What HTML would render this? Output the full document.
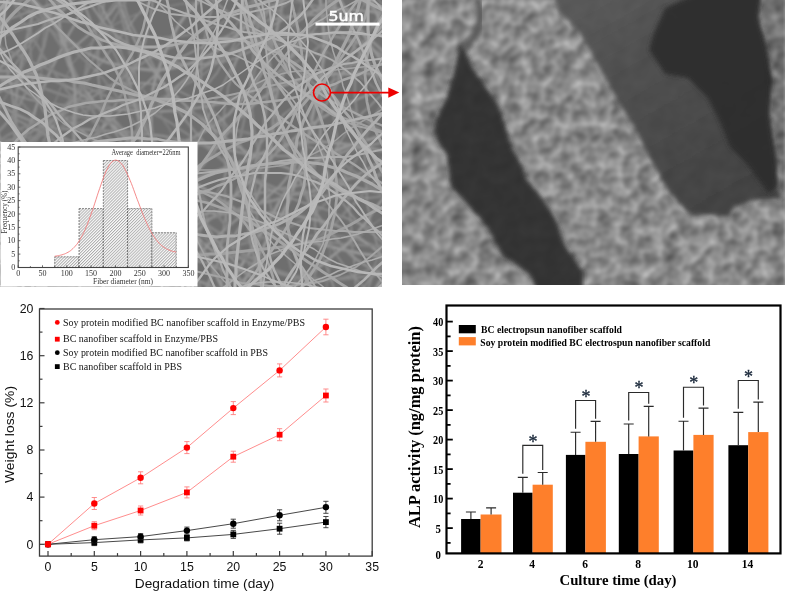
<!DOCTYPE html>
<html><head><meta charset="utf-8"><title>Figure</title>
<style>
html,body{margin:0;padding:0;background:#fff;}
body{width:785px;height:594px;overflow:hidden;position:relative;}
svg{position:absolute;left:0;top:0;display:block;}
.ser{font-family:"Liberation Serif","Times New Roman",serif;}
.san{font-family:"Liberation Sans",Arial,sans-serif;}
</style></head><body>
<svg width="785" height="594" viewBox="0 0 785 594">
<defs>
<filter id="grain" x="0" y="0" width="100%" height="100%" color-interpolation-filters="sRGB">
<feTurbulence type="fractalNoise" baseFrequency="0.075" numOctaves="2" seed="8" result="n"/>
<feColorMatrix in="n" type="matrix" values="0 0 0 0 0  0 0 0 0 0  0 0 0 0 0  1 0 0 0 0" result="h"/>
<feGaussianBlur in="h" stdDeviation="1.5" result="hb"/>
<feDiffuseLighting in="hb" surfaceScale="6" diffuseConstant="1" lighting-color="#fff" result="L"><feDistantLight azimuth="235" elevation="50"/></feDiffuseLighting>
<feColorMatrix in="n" type="matrix" values="1 0 0 0 0  1 0 0 0 0  1 0 0 0 0  0 0 0 0 1" result="g"/>
<feComposite in="L" in2="g" operator="arithmetic" k1="0" k2="0.3" k3="0.7" k4="0" result="c"/>
<feColorMatrix in="c" type="matrix" values="0.62 0 0 0 0.19  0 0.62 0 0 0.19  0 0 0.62 0 0.19  0 0 0 0 1"/>
<feGaussianBlur stdDeviation="0.9"/>
</filter>
<filter id="bl1"><feGaussianBlur stdDeviation="0.6"/></filter>
<filter id="bl15"><feGaussianBlur stdDeviation="1.2"/></filter>
<filter id="bl2"><feGaussianBlur stdDeviation="2"/></filter>
<filter id="bl4"><feGaussianBlur stdDeviation="4"/></filter>
<pattern id="hatch" width="2.1" height="2.1" patternUnits="userSpaceOnUse" patternTransform="rotate(45)">
<rect width="2.1" height="2.1" fill="#fafafa"/><line x1="0.5" y1="0" x2="0.5" y2="2.1" stroke="#9c9c9c" stroke-width="0.75"/>
</pattern>
<linearGradient id="mdg" gradientUnits="userSpaceOnUse" x1="580" y1="0" x2="700" y2="210"><stop offset="0" stop-color="#555"/><stop offset="0.5" stop-color="#474747"/><stop offset="1" stop-color="#3e3e3e"/></linearGradient>
<clipPath id="cl"><rect x="0" y="0" width="382" height="287"/></clipPath>
<clipPath id="cr"><rect x="402" y="0" width="383" height="285"/></clipPath>
</defs>

<g clip-path="url(#cl)">
<rect x="0" y="0" width="382" height="287" fill="#6e6e6e"/>
<g fill="none" stroke-linecap="round" stroke-linejoin="round" filter="url(#bl15)"><polyline points="-15,221 -8,227 -2,234 4,240 10,247 15,254 20,262 25,270 29,278 32,286 36,294 39,303 42,311 46,319" stroke="rgb(139,139,139)" stroke-width="1.8"/><polyline points="365,302 370,295 376,288 381,280 386,273 390,265 394,257 398,249 401,240 403,231 406,223 408,214 411,205" stroke="rgb(151,151,151)" stroke-width="3"/><polyline points="56,302 65,298 73,295 81,291 89,287 97,283 105,279 113,275 121,271 129,267 137,263 145,259 154,255 162,251 170,247 178,243 185,238 193,233 200,228 207,222 214,216 220,210 227,204 233,198 240,191 246,185 252,178 258,172 264,165 271,159 277,152 284,147 291,141 298,135 305,130 312,124 320,119 327,115 335,110 343,106 351,102 360,98 368,95 376,92 385,89 393,86 402,84 411,82" stroke="rgb(152,152,152)" stroke-width="2.2"/><polyline points="-15,70 -7,74 1,78 9,82 17,86 25,91 32,96 40,101 47,106 55,111 62,116 69,121 76,127 83,132 91,138 98,143 105,149 112,154 120,159 127,165 134,170 141,176 147,182 154,188 160,195 166,201 172,208 178,215 184,222 189,229 196,235 202,242 209,248 216,253 223,259 230,264 238,269 246,273 253,278 261,283 268,288 276,292 284,297 292,301 300,306 307,311 315,315" stroke="rgb(151,151,151)" stroke-width="2.6"/><polyline points="17,302 13,294 9,286 5,278 2,270 -0,261 -2,252 -3,243 -4,234 -3,225 -3,216 -1,207 0,198 3,190 6,181 10,173 14,165 19,158 24,151 30,143 36,137 42,130 48,123 54,117 61,111 68,105 75,100 83,96 91,92 100,89 108,86 117,84 126,83 135,83 144,83 153,84 162,86 170,88 179,91 187,95 195,99 203,103 210,109 217,115 223,121 229,128 235,135 239,143 244,151 247,159 251,167 253,176 255,185 255,194 256,203 257,212 257,221 257,230 258,239 258,248 258,257 259,266 260,275 261,284 262,292 265,301 268,309 272,318" stroke="rgb(142,142,142)" stroke-width="1.8"/><polyline points="397,131 388,134 380,136 371,139 362,141 354,144 345,147 337,150 329,155 321,159 314,164 307,169 300,175 294,182 288,189 283,196 278,204 274,212 269,220 265,227 260,235 256,243 251,250 246,258 241,266 236,273 231,281 225,288 219,294 213,300 205,306 198,311 191,316" stroke="rgb(152,152,152)" stroke-width="3"/><polyline points="117,302 124,296 131,291 138,286 146,281 154,277 162,272 170,269 178,265 186,262 195,259 204,256 212,254 221,251 229,248 238,245 246,243 255,240 264,237 272,233 280,230 289,227 297,223 305,219 312,214 320,209 326,203 333,196 338,189 344,182 348,174 352,166 357,158 360,150 364,142 367,134 371,125 375,117 379,109 384,102 389,95 395,87 400,80 405,73 411,66" stroke="rgb(128,128,128)" stroke-width="3"/><polyline points="-15,97 -7,102 1,106 9,110 17,114 25,118 33,122 41,126 49,130 57,134 65,138 73,142 81,146 89,151 96,156 104,161 111,167 117,173 124,179 130,185 137,192 143,198 149,205 154,212 160,219 165,226 170,234 175,241 179,249 184,257 187,265 191,274 195,282 198,290 202,298 206,307 209,315 213,323" stroke="rgb(149,149,149)" stroke-width="1.4"/><polyline points="120,-15 122,-6 124,3 126,11 129,20 133,28 137,36 141,44 146,52 150,59 154,67 159,75 163,83 167,91 171,99 176,107 181,114 186,121 192,128 198,135 204,142 210,149 216,155 223,161 230,167 238,172 245,176 254,180 262,183 270,186 279,189 288,191 297,193 305,195 314,196 323,197 332,197 341,198 350,198 359,198 368,198 377,197 386,196 395,194 404,192 413,191" stroke="rgb(140,140,140)" stroke-width="2.2"/><polyline points="397,38 389,34 381,30 373,26 364,23 356,21 347,19 338,17 329,16 320,15 311,15 302,15 293,16 284,17 275,19 267,21 258,23 249,26 241,29 233,33 225,37 216,40 208,44 200,48 192,52 184,56 176,60 169,65 161,70 154,76 148,82 141,88 135,95 129,102 123,108 117,115 110,121 104,127 97,133 90,139 83,144 76,150 69,155 62,161 56,168 50,175 44,182 39,189 34,196 29,204 25,212 21,220 17,228 13,236 9,244 6,253 4,261 2,270 1,279 1,288 1,297 2,306 4,315" stroke="rgb(148,148,148)" stroke-width="1.8"/><polyline points="-6,302 1,297 9,292 16,286 23,280 29,274 35,267 41,260 46,253 51,246 56,238 60,230 64,222 67,213 70,205 73,196 76,188 78,179 81,171 85,162 89,154 93,146 97,138 101,130 105,122 110,115 114,107 119,99 124,91 128,83 132,75 135,67 139,59 142,50 145,42 147,33 149,24 151,15 152,7 153,-2 153,-11 154,-20 156,-29" stroke="rgb(152,152,152)" stroke-width="1.8"/><polyline points="397,10 388,10 379,11 370,11 361,11 352,10 343,10 334,9 325,8 316,6 308,3 299,0 291,-4 283,-8 275,-12 267,-16 260,-21 252,-27" stroke="rgb(144,144,144)" stroke-width="1.8"/><polyline points="242,302 241,293 240,284 239,275 237,266 236,258 233,249 231,240 229,231 227,222 226,214 226,205 225,196 225,187 225,178 225,169 225,160 224,151 224,142 224,133 224,124 224,115 225,106 227,97 228,88 231,79 233,71 236,62 239,54 244,46 248,38 253,31 259,24 265,17 271,10 277,3 283,-3 289,-10 295,-16 301,-23 306,-30" stroke="rgb(147,147,147)" stroke-width="1.4"/><polyline points="397,67 390,61 383,56 375,51 367,47 359,43 351,40 342,38 333,36 324,35 315,34 306,34 297,35 288,37 280,39 271,41 262,43 253,45 245,48 236,51 228,54 220,58 212,62 204,67 197,72 189,77 182,82 175,88 169,95 163,101 157,108 151,114 144,121 139,128 133,135 127,141 121,148 115,155 109,161 102,168 96,174 88,179 81,184 73,188 65,192 57,196 48,199 40,202 31,205 23,208 14,210 5,212 -4,214 -12,216 -21,218 -30,220" stroke="rgb(141,141,141)" stroke-width="3"/><polyline points="134,302 140,296 147,289 154,283 160,278 167,272 174,266 180,259 186,252 192,245 196,238 201,230 204,222 208,213 211,205 215,197 219,189 223,180 227,172 230,164 234,156 237,147 240,139 242,130 244,121 246,113 248,104 249,95 250,86 251,77 252,68 253,59 254,50 256,41 257,32 259,23 261,15 264,6 267,-2 270,-11 273,-19 276,-28" stroke="rgb(146,146,146)" stroke-width="1.4"/><polyline points="99,302 92,297 84,293 76,289 68,284 60,279 53,274 46,269 38,264 31,259 24,253 17,248 10,241 4,235 -1,228 -6,220 -10,212 -14,204 -17,195 -20,187 -22,178 -23,169 -24,160 -24,151 -23,142 -23,133 -22,124 -21,115 -20,106 -19,97 -18,89 -16,80 -13,71 -10,63 -7,54 -4,46 -1,37 3,29 8,22 13,14 18,6 22,-1 27,-9 33,-16 38,-23 43,-30" stroke="rgb(134,134,134)" stroke-width="1.8"/><polyline points="219,-15 217,-6 214,2 211,11 209,19 207,28 205,37 203,46 202,55 201,64 201,73 201,82 201,91 203,99 205,108 208,117 211,125 215,133 219,141 224,149 229,156 235,163 242,169 248,175 255,181 263,186 271,190 279,194 287,197 296,200 304,203 313,205 321,208 330,211 338,215 346,218 355,222 363,225 372,228 380,231 389,234 397,237 406,239 414,242" stroke="rgb(147,147,147)" stroke-width="1.8"/><polyline points="133,-15 127,-8 122,-1 116,6 111,13 105,19 98,26 92,32 85,38 78,44 71,49 63,54 56,59 48,63 40,68 32,73 25,77 17,82 9,87 1,91 -7,95 -15,99 -23,102 -32,104" stroke="rgb(152,152,152)" stroke-width="1.8"/><polyline points="397,26 392,18 387,11 382,4 376,-4 371,-11 365,-17 359,-24 352,-30" stroke="rgb(135,135,135)" stroke-width="1.8"/><polyline points="41,-15 33,-11 25,-7 17,-3 9,1 1,5 -7,9 -15,13 -23,18 -31,22" stroke="rgb(137,137,137)" stroke-width="1.8"/><polyline points="-11,-15 -13,-6 -15,3 -17,11 -19,20 -22,29 -25,37 -28,46" stroke="rgb(144,144,144)" stroke-width="2.2"/><polyline points="397,145 393,153 388,161 383,168 378,176 373,183 367,190 361,196 355,203 348,209 342,216 336,223 329,229 322,234 315,239 307,244 299,247 290,250 282,253 273,255 264,257 255,257 246,257 237,257 228,256 219,255 210,254 201,253 193,251 184,250 175,249 166,249 157,250 148,251 139,252 130,254 121,256 113,258 104,261 96,264 87,267 79,270 70,273 62,277 53,280 45,283 37,286 28,290 20,294 13,298 5,303 -3,308 -10,313 -17,318" stroke="rgb(130,130,130)" stroke-width="3"/><polyline points="24,-15 26,-6 28,3 30,12 31,20 31,29 31,38 30,47 31,56 31,65 32,74 34,83 36,92 39,101 42,109 47,117 51,124 57,132 63,138 69,145 75,151 82,157 90,162 97,168 103,173 110,179 117,185 125,190 132,195 140,200 147,205 155,210 163,214 170,219 178,223 186,227 194,231 202,236 210,241 217,246 225,250 233,255 241,259 249,262 257,266 266,269 274,272 283,275 291,277 300,279 309,280 318,280 327,280 336,279 345,277 354,275 362,272 371,269 379,266 388,262 396,258 403,254 410,248" stroke="rgb(144,144,144)" stroke-width="1.4"/><polyline points="397,34 390,28 384,22 378,15 372,8 367,1 363,-7 359,-16 356,-24 354,-33" stroke="rgb(129,129,129)" stroke-width="2.6"/><polyline points="397,199 388,196 380,193 371,191 363,189 354,187 345,185 336,183 327,181 319,178 310,176 302,173 293,170 285,167 276,164 268,161 259,158 251,154 243,150 236,145 228,140 221,134 214,129 207,123 200,118 193,112 186,106 180,100 173,93 167,87 161,80 155,73 150,66 145,58 140,51 136,43 132,35 128,27 125,18 122,10 119,1 116,-7 114,-16 111,-25 109,-33" stroke="rgb(152,152,152)" stroke-width="2.2"/><polyline points="162,302 164,293 166,284 167,276 169,267 170,258 170,249 171,240 170,231 169,222 168,213 166,204 163,195 161,187 158,178 155,170 152,161 149,153 146,144 142,136 138,128 133,121 128,113 123,105 118,98 113,91 107,84 102,77 95,70 89,64 82,58 76,52 69,45 63,39 56,34 49,28 42,22 35,16 28,11 20,7 12,3 3,-0 -5,-3 -14,-6 -22,-9 -31,-11" stroke="rgb(128,128,128)" stroke-width="2.6"/><polyline points="-15,192 -7,195 2,199 10,201 19,203 28,205 37,205 46,205 55,204 64,203 73,202 81,200 90,196 98,193 106,189 114,184 121,179 129,174 136,168 143,163 150,157 156,151 163,144 169,138 175,131 180,124 186,117 191,110 196,102 201,95 206,87 211,80 217,73 221,65 226,57 231,50 235,42 239,34 243,26 247,18 251,9 254,1 258,-7 262,-15 266,-23 270,-31" stroke="rgb(147,147,147)" stroke-width="1.4"/><polyline points="-15,181 -9,188 -3,195 3,201 10,208 16,214 24,219 31,224 39,228 47,232 55,235 64,238 73,241 81,243 90,245 99,248 107,250 116,253 125,256 133,258 142,261 150,264 159,267 167,269 176,272 184,275 193,278 201,282 209,285 218,289 226,293 233,298 241,303 248,308 255,314 261,321" stroke="rgb(141,141,141)" stroke-width="3"/><polyline points="47,-15 47,-6 47,3 46,12 45,21 44,30 43,39 43,48 42,57 42,66 41,75 40,84 39,93 38,102 36,110 34,119 32,128 30,137 29,146 27,154 26,163 25,172 24,181 23,190 22,199 21,208 20,217 19,226 18,235 17,244 15,253 14,262 13,271 12,280 11,288 11,297 11,306 12,315" stroke="rgb(132,132,132)" stroke-width="1.4"/><polyline points="397,272 388,273 379,274 370,276 361,277 352,278 343,279 334,279 325,280 316,279 308,278 299,277 290,275 281,272 273,269 265,266 257,261 249,257 241,252 234,246 228,240 221,234 213,229 206,224 198,219 191,215 183,210 175,206 166,203 158,200 149,197 140,195 132,194 123,193 114,192 105,192 96,192 87,193 78,194 69,195 60,196 51,198 43,201 34,205 26,208 18,211 9,215 1,217 -8,220 -17,221 -26,222" stroke="rgb(134,134,134)" stroke-width="3"/><polyline points="61,-15 60,-6 59,3 59,12 59,21 60,30 61,39 63,48 66,56 69,65 73,73 78,80 83,88 89,95 94,102 100,109 105,116 111,123 117,130 123,136 130,142 137,147 145,152 152,157 160,161 168,166 176,170 183,175 191,180 198,185 206,190 214,195 221,200 229,205 236,210 244,214 252,219 260,223 268,227 276,231 284,234 293,237 301,240 310,242 319,244 328,246 336,248 345,250 354,252 363,254 372,255 381,257 389,257 398,258 407,259 416,259" stroke="rgb(151,151,151)" stroke-width="3"/><polyline points="166,302 159,296 152,290 145,285 138,280 130,275 122,272 113,268 105,265 96,263 87,261 78,261 69,260 60,260 51,261 43,263 34,265 25,267 17,271 9,275 1,279 -7,283 -15,288 -22,293 -29,298" stroke="rgb(152,152,152)" stroke-width="1.8"/><polyline points="-15,66 -8,72 -2,78 5,84 11,91 17,97 23,104 29,111 35,118 40,125 46,132 51,139 57,146 62,153 68,160 74,167 80,174 85,181 91,188 97,194 104,201 111,207 118,212 125,218 132,223 140,228 148,232 156,235 165,238 173,241 182,242 191,243 200,243 209,243 218,242 227,241 236,240 245,239 254,239 263,238 272,238 281,238 290,237 299,237 308,236 317,236 326,236 335,236 344,237 353,238 361,241 370,244 378,247 386,251 394,256 401,261 408,266 416,272" stroke="rgb(128,128,128)" stroke-width="2.6"/><polyline points="397,83 390,88 383,94 376,100 370,106 363,112 357,119 352,126 346,133 341,141 336,148 331,156 327,164 324,172 320,180 318,189 317,198 315,207 315,216 315,225 316,234 318,243 321,251 324,260 327,268 330,277 333,285 336,293 340,301 345,309 350,317" stroke="rgb(154,154,154)" stroke-width="1.4"/><polyline points="-15,19 -10,26 -6,34 -1,42 2,51 5,59 7,68 9,77 11,85 12,94 13,103 14,112 15,121 15,130 14,139 13,148 11,157 9,166 7,174 4,183 1,191 -3,200 -7,208 -11,216 -15,223 -20,231 -25,239 -29,247" stroke="rgb(152,152,152)" stroke-width="1.4"/><polyline points="-15,100 -11,108 -8,116 -5,125 -2,133 1,142 3,150 6,159 8,168 10,177 11,186 12,194 13,203 14,212 16,221 19,230 22,238 26,246 31,254 36,261 41,268 47,275 54,282 60,288 67,294 74,299 81,304 89,309 96,314 104,319" stroke="rgb(144,144,144)" stroke-width="2.6"/><polyline points="-15,6 -8,-0 -2,-7 4,-13 11,-20 17,-26" stroke="rgb(154,154,154)" stroke-width="3"/><polyline points="107,-15 105,-6 104,3 103,12 102,21 101,30 100,38 99,47 98,56 98,65 98,74 99,83 100,92 102,101 104,110 107,118 111,126 116,134 121,142 126,149 132,155 139,162 146,167 153,173 161,178 168,182 177,185 185,188 194,191 203,193 212,194 220,195 229,196 238,196 247,195 256,194 265,192 274,190 283,188 292,187 301,185 309,184 318,183 327,182 336,180 345,179 354,178 363,177 372,176 381,175 390,175 399,176 408,177 416,179" stroke="rgb(143,143,143)" stroke-width="1.8"/><polyline points="99,-15 91,-11 82,-8 74,-4 66,-1 57,2 49,5 40,8 32,11 23,14 15,17 6,20 -2,23 -10,28 -18,32 -25,38 -32,44" stroke="rgb(151,151,151)" stroke-width="1.4"/><polyline points="-14,302 -10,294 -7,286 -4,277 -2,268 0,260 2,251 4,242 4,233 4,224 4,215 3,206 1,197 0,188 -1,179 -2,170 -3,161 -5,153 -7,144 -9,135 -11,126 -13,118 -15,109 -17,100 -18,91 -20,82 -21,73 -22,64 -24,55 -25,46 -26,38" stroke="rgb(139,139,139)" stroke-width="1.8"/><polyline points="219,-15 211,-10 204,-4 198,2 191,8 186,15 180,23 176,30 172,38 168,46 164,55 161,63 158,71 155,80 153,89 152,98 151,107 151,116 151,125 152,134 154,142 156,151 159,160 163,168 166,176 170,184 173,193 177,201 181,209 185,217 189,225 193,233 198,241 202,249 207,256 211,265 215,273 219,281 223,289 227,297 230,305 233,313 236,322" stroke="rgb(151,151,151)" stroke-width="3"/><polyline points="-15,7 -6,5 3,4 12,2 20,0 29,-1 38,-2 47,-3 56,-5 65,-6 74,-9 82,-11 91,-13 100,-16 108,-18 117,-20 126,-21 135,-23 144,-25 153,-27" stroke="rgb(144,144,144)" stroke-width="1.4"/><polyline points="397,-17 389,-20 380,-23 372,-26 363,-28" stroke="rgb(141,141,141)" stroke-width="2.6"/><polyline points="92,-15 89,-6 86,2 82,10 78,18 74,26 69,34 65,42 61,50 57,58 53,66 49,74 46,82 42,91 39,99 36,107 33,116 30,124 26,133 22,141 17,148 12,156 6,163 0,169 -6,176 -12,182 -18,189 -24,196 -29,203" stroke="rgb(150,150,150)" stroke-width="2.2"/><polyline points="11,302 7,294 3,286 -1,278 -5,270 -9,261 -13,253 -18,246 -23,238 -28,231" stroke="rgb(139,139,139)" stroke-width="2.2"/><polyline points="231,302 236,294 241,287 245,279 250,272 254,264 258,256 263,248 267,240 272,232 276,225 281,217 285,209 289,201 292,192 295,184 298,175 300,167 303,158 305,149 307,140 309,132 311,123 313,114 315,105 317,96 319,88 320,79 322,70 323,61 323,52 324,43 324,34 323,25 322,16 321,7 320,-2 319,-11 318,-20 317,-29" stroke="rgb(152,152,152)" stroke-width="3"/><polyline points="312,-15 307,-7 304,1 300,9 298,18 296,27 294,36 294,45 294,54 295,63 296,72 298,80 301,89 303,98 306,106 309,115 311,123 314,132 316,141 319,149 321,158 324,167 326,175 327,184 328,193 329,202 330,211 331,220 331,229 331,238 330,247 330,256 330,265 329,274 327,283 326,292 324,301 321,309 319,318" stroke="rgb(130,130,130)" stroke-width="1.4"/><polyline points="231,-15 223,-12 215,-9 206,-7 197,-5 188,-4 179,-3 170,-2 161,-2 152,-2 143,-3 134,-4 126,-6 117,-9 108,-12 100,-16 92,-20 84,-24 76,-28" stroke="rgb(135,135,135)" stroke-width="2.2"/><polyline points="301,302 298,293 296,285 294,276 291,267 289,259 286,250 283,242 280,233 277,225 274,216 271,208 269,199 266,190 264,181 263,173 261,164 259,155 257,146 255,137 254,129 253,120 252,111 252,102 253,93 253,84 254,75 256,66 257,57 257,48 257,39 257,30 257,21 257,12 256,3 256,-6 256,-15 255,-24 255,-33" stroke="rgb(131,131,131)" stroke-width="2.6"/><polyline points="376,-15 371,-7 367,0 362,8 358,16 354,24 350,32 346,40 342,48 339,57 336,65 334,74 333,83 332,92 332,101 332,110 334,119 335,128 337,136 339,145 340,154 342,163 344,172 345,181 346,190 348,199 349,207 350,216 351,225 352,234 352,243 353,252 354,261 355,270 355,279 356,288 357,297 358,306 360,315 362,324" stroke="rgb(146,146,146)" stroke-width="1.4"/><polyline points="-15,141 -6,141 3,140 12,139 21,139 30,137 39,136 48,134 56,132 65,129 73,126 81,122 90,119 98,116 107,113 115,110 124,108 133,106 142,104 150,102 159,99 167,95 175,91 182,86 189,80 196,74 202,68 209,61 215,54 220,47 225,40 231,33 236,25 241,18 246,10 250,3 255,-5 260,-13 264,-20 269,-28" stroke="rgb(133,133,133)" stroke-width="1.4"/><polyline points="397,284 391,290 384,296 378,303 372,309 365,316" stroke="rgb(137,137,137)" stroke-width="1.8"/><polyline points="-15,40 -6,38 3,36 11,33 20,30 28,26 36,22 44,18 51,13 58,7 64,0 70,-7 75,-14 80,-22 84,-30" stroke="rgb(129,129,129)" stroke-width="2.2"/><polyline points="397,287 393,279 388,271 384,263 381,255 378,247 375,238 373,229 370,221 369,212 367,203 367,194 366,185 366,176 365,167 365,158 364,149 363,140 361,131 359,123 357,114 356,105 355,96 355,87 355,78 356,69 358,60 360,51 364,43 367,35 372,27 377,19 382,12 388,6 395,-1 402,-6 409,-12 417,-16" stroke="rgb(152,152,152)" stroke-width="1.4"/><polyline points="-15,90 -9,96 -2,102 5,108 13,113 21,117 29,120 38,124 46,126 55,128 64,129 73,129 82,129 91,130 100,130 109,131 118,132 127,132 136,133 145,134 154,135 163,136 172,138 180,140 189,142 198,144 207,146 216,147 224,149 233,151 242,153 251,154 260,154 269,155 278,156 287,156 296,157 305,157 314,157 323,156 332,155 341,153 349,150 358,148 367,146 376,144 384,142 393,140 402,138 411,136" stroke="rgb(141,141,141)" stroke-width="2.6"/><polyline points="166,-15 160,-9 153,-2 147,4 141,11 135,18 130,25 124,32 119,39 113,46 108,54 103,61 97,68 92,75 86,82 81,89 75,96 69,104 64,111 59,118 54,125 49,133 44,140 40,148 36,156 32,165 29,173 27,182 25,191 24,200 24,209 24,218 23,227 24,236 24,245 24,254 24,263 23,272 22,281 20,290 18,298 16,307 14,316" stroke="rgb(147,147,147)" stroke-width="1.4"/><polyline points="397,280 389,277 380,273 372,269 365,265 357,260 350,254 344,248 338,241 332,234 326,227 321,220 316,213 311,205 307,197 304,188 300,180 296,172 293,164 290,155 286,147 283,138 280,130 278,121 276,112 275,104 273,95 272,86 271,77 270,68 269,59 269,50 269,41 270,32 271,23 273,14 276,6 279,-3 282,-11 286,-19 290,-27" stroke="rgb(142,142,142)" stroke-width="3"/><polyline points="397,61 390,55 383,50 376,44 369,38 362,33 355,27 348,21 342,15 336,8 330,1 325,-6 319,-13 314,-21 310,-29" stroke="rgb(135,135,135)" stroke-width="2.2"/><polyline points="-15,42 -11,34 -6,26 -2,18 3,11 9,4 14,-4 19,-11 24,-18 29,-26" stroke="rgb(137,137,137)" stroke-width="1.8"/><polyline points="397,257 390,262 383,267 376,273 369,280 364,287 358,294 354,301 350,310 346,318" stroke="rgb(146,146,146)" stroke-width="1.4"/><polyline points="-15,247 -6,249 3,250 11,252 20,254 29,256 38,257 47,259 55,262 64,264 72,267 81,271 89,274 97,279 104,284 112,288 120,293 127,298 135,302 144,305 152,309 161,312 169,314 178,316" stroke="rgb(139,139,139)" stroke-width="2.6"/><polyline points="320,-15 325,-7 330,0 335,8 340,15 345,23 351,30 357,36 363,42 370,48 378,53 386,58 393,62 401,67 408,72 415,78" stroke="rgb(140,140,140)" stroke-width="1.4"/><polyline points="34,302 43,298 51,294 59,291 67,287 75,283 83,279 92,276 100,272 108,269 117,266 126,264 135,262 143,261 152,259 161,258 170,258 179,258 188,259 197,261 206,263 214,266 222,270 230,274 238,278 246,283 253,288 261,293 267,299 274,305 280,312 286,319" stroke="rgb(144,144,144)" stroke-width="2.2"/><polyline points="397,79 388,77 380,75 371,74 362,73 353,74 344,74 335,74 326,75 317,76 308,78 299,80 291,83 282,86 274,90 267,95 259,100 252,106 246,112 239,118 233,125 228,132 222,139 217,147 212,154 206,161 200,168 195,175 189,182 183,188 177,195 171,201 164,208 158,214 151,220 145,226 138,232 131,238 124,244 117,249 109,255 102,260 95,266 88,271 82,278 75,284 69,291 64,298 59,305 54,313 50,321" stroke="rgb(148,148,148)" stroke-width="3"/><polyline points="-15,87 -10,79 -4,72 2,66 9,60 15,54 22,48 28,41 35,35 42,29 49,24 55,17 62,11 68,5 74,-2 80,-9 85,-17 89,-24 93,-32" stroke="rgb(142,142,142)" stroke-width="3"/><polyline points="-8,-15 -5,-6 -3,2 -2,11 -1,20 -0,29 -0,38 -0,47 -1,56 -3,65 -5,74 -7,83 -9,91 -11,100 -14,109 -17,117 -20,126 -23,134 -26,143" stroke="rgb(141,141,141)" stroke-width="2.2"/><polyline points="-15,145 -8,139 -2,132 4,126 10,119 15,112 20,104 24,96 28,88 32,80 35,71 38,63 41,54 44,46 46,37 48,28 50,20 52,11 54,2 55,-7 57,-16 58,-25 59,-34" stroke="rgb(137,137,137)" stroke-width="2.6"/><polyline points="33,-15 34,-6 34,3 33,12 31,21 29,30 27,38 25,47 23,56 21,65 19,73 18,82 17,91 16,100 16,109 16,118 16,127 17,136 19,145 21,154 23,163 26,171 28,180 31,188 33,197 35,206 37,215 38,224 41,232 44,241 47,249 50,258 53,266 55,275 58,284 60,292 61,301 62,310 63,319" stroke="rgb(140,140,140)" stroke-width="3"/><polyline points="201,302 204,294 208,285 211,277 215,269 219,261 224,253 228,245 233,238 238,230 243,223 247,215 252,207 256,199 259,191 263,182 266,174 268,165 270,156 271,147 272,138 273,129 273,120 274,112 275,103 277,94 279,85 282,77 286,68 289,60 293,52 298,44 303,37 308,30 314,22 319,15 324,8 329,0 334,-7 339,-15 343,-23 348,-31" stroke="rgb(143,143,143)" stroke-width="3"/><polyline points="397,231 393,239 388,247 384,255 380,263 376,271 372,279 369,287 365,296 362,304 358,312 353,320" stroke="rgb(135,135,135)" stroke-width="1.4"/><polyline points="-15,302 -9,309 -4,317 1,324 6,331" stroke="rgb(142,142,142)" stroke-width="1.8"/><polyline points="-15,74 -6,75 3,76 12,78 20,81 29,83 37,86 46,89 54,92 63,95 71,98 80,100 89,102 98,104 106,106 115,108 124,109 133,110 142,111 151,111 160,112 169,111 178,111 187,110 196,108 205,106 213,104 222,102 230,99 239,95 247,91 255,87 262,82 270,77 278,73 286,69 294,64 301,59 309,55 316,49 323,43 329,37 335,30 341,24 347,17 352,9 357,2 362,-6 366,-14 369,-22 372,-31" stroke="rgb(134,134,134)" stroke-width="2.6"/><polyline points="285,-15 284,-6 282,3 281,12 279,20 277,29 275,38 272,47 270,55 266,64 262,72 258,79 253,87 247,94 241,101 235,107 229,114 222,119 215,125 207,130 199,134 191,139 183,142 175,145 166,148 157,151 149,153 140,154 131,156 122,157 113,158 104,159 95,160 86,162 78,164 69,166 61,169 52,173 44,177 36,180 28,185 20,189 12,193 5,198 -3,203 -11,207 -19,211 -27,215" stroke="rgb(145,145,145)" stroke-width="3"/><polyline points="-15,143 -7,148 1,152 8,157 15,162 23,168 30,174 36,180 42,186 48,193 53,201 58,208 62,216 65,225 68,233 70,242 73,251 75,259 77,268 78,277 79,286 80,295 82,304 84,313 86,321" stroke="rgb(136,136,136)" stroke-width="2.6"/><polyline points="-15,40 -7,44 1,48 9,51 18,55 26,59 34,63 42,66 50,70 59,74 67,77 75,81 83,85 91,89 99,93 108,97 116,100 124,103 133,106 141,109 150,112 158,116 166,120 174,125 181,130 189,135 196,140 203,145 211,151 218,156 225,161 233,166 240,171 248,175 256,179 264,183 273,187 281,190 290,192 298,194 307,195 316,196 325,196 334,196 343,195 352,194 361,192 370,190 378,187 387,185 396,183 405,181 414,180" stroke="rgb(133,133,133)" stroke-width="2.6"/><polyline points="375,-15 372,-7 369,2 366,11 364,19 361,28 358,36 355,45 351,53 348,61 344,70 340,78 336,86 332,94 328,101 323,109 319,117 315,125 311,133 307,141 303,150 299,158 295,166 290,173 285,180 279,187 272,193 265,199 258,204 251,210 243,215 236,220 229,226 222,232 216,238 209,244 203,251 197,257 190,263 184,270 177,276 171,283 165,289 160,296 154,304 149,311 144,318" stroke="rgb(149,149,149)" stroke-width="2.2"/><polyline points="355,-15 348,-9 341,-3 335,3 329,10 323,17 318,24 313,31 307,38 302,46 296,53 290,59 284,66 278,72 271,78 264,84 257,89 249,93 241,97 232,100 224,103 215,105 206,107 197,108 188,109 179,110 170,111 161,111 152,111 143,111 134,111 125,110 116,110 107,109 98,108 89,107 80,106 72,105 63,105 54,104 45,103 36,101 27,99 18,96 10,93 2,89 -6,84 -13,79 -20,74 -27,68" stroke="rgb(150,150,150)" stroke-width="1.4"/><polyline points="397,-5 391,-12 385,-19 379,-25 373,-32" stroke="rgb(128,128,128)" stroke-width="1.8"/><polyline points="-15,29 -8,23 -2,16 4,9 10,3 16,-4 22,-11 27,-18 33,-25 39,-32" stroke="rgb(140,140,140)" stroke-width="1.4"/><polyline points="397,207 390,212 383,218 375,223 368,229 361,235 354,240 347,246 340,251 333,256 325,261 317,266 310,270 302,275 294,280 287,285 279,290 272,295 265,301 258,306 251,311 243,317" stroke="rgb(133,133,133)" stroke-width="1.4"/><polyline points="-15,251 -8,246 -0,241 7,235 14,231 22,226 30,222 39,219 48,217 56,215 65,214 74,214 83,213 92,214 101,214 110,215 119,216 128,218 137,219 146,220 155,220 164,220 173,219 182,218 191,216 200,215 209,213 217,213 226,212 235,211 244,212 253,212 262,213 271,213 280,214 289,215 298,216 307,218 316,220 325,222 333,224 342,228 350,232 357,236 365,242 372,247 379,253 386,258 392,265 399,271 405,277 411,284" stroke="rgb(150,150,150)" stroke-width="2.6"/><polyline points="-15,145 -6,145 3,145 12,146 21,147 30,148 39,150 47,152 56,155 64,158 72,162 81,166 89,169 97,173 105,177 113,181 121,185 129,190 136,195 143,201 149,208 155,215 160,222 165,230 170,237 174,245 179,253 183,260 188,268 192,276 195,284 199,293 201,302 203,310 205,319" stroke="rgb(149,149,149)" stroke-width="2.6"/><polyline points="16,-15 22,-8 28,-1 34,6 39,13 44,20 49,28 54,35 59,43 64,50 68,58 72,66 76,74 80,82 84,90 88,99 91,107 95,115 97,124 99,133 101,142 102,151 103,160 105,168 106,177 107,186 109,195 109,204 110,213 110,222 110,231 110,240 109,249 109,258 108,267 107,276 105,285 104,294 102,302 100,311 98,320" stroke="rgb(131,131,131)" stroke-width="3"/><polyline points="133,-15 126,-9 120,-2 114,4 109,11 104,19 99,27 95,35 92,43 90,52 87,61 86,69 84,78 82,87 80,96 78,105 77,114 76,123 75,131 75,140 75,149 75,158 75,167 76,176 76,185 75,194 75,203 73,212 71,221 69,230 67,238 64,247 62,256 59,264 55,272 51,280 46,288 42,296 37,303 32,311 27,318" stroke="rgb(132,132,132)" stroke-width="2.2"/><polyline points="-15,171 -7,167 1,163 9,159 17,154 23,148 30,141 36,135 41,127 46,120 50,112 54,104 58,95 61,87 65,79 69,71 73,63 79,56 85,49 91,43 98,37 105,31 112,26 120,22 128,18 137,14 145,12 154,9 163,7 171,6 180,4 189,3 198,2 207,1 216,0 225,-1 234,-1 243,-1 252,-2 261,-2 270,-1 279,-0 288,1 297,2 306,4 314,6 323,8 332,10 341,12 349,15 358,19 366,23 373,27 381,33 388,38 394,45 400,51 405,59 410,66 414,74" stroke="rgb(131,131,131)" stroke-width="1.4"/><polyline points="-15,109 -6,112 2,115 11,118 19,121 27,125 35,129 43,133 51,138 58,143 66,148 73,153 80,159 86,165 93,171 100,178 106,184 112,190 118,197 123,204 128,212 132,220 136,228 139,237 141,246 143,254 145,263 147,272 149,281 151,289 153,298 155,307 158,316" stroke="rgb(139,139,139)" stroke-width="2.2"/><polyline points="-15,37 -7,34 2,31 10,28 19,26 28,24 37,22 46,21 55,21 64,21 73,22 82,23 90,24 99,26 108,28 117,30 125,32 134,35 143,36 152,37 161,38 170,37 179,36 188,35 196,33 205,30 213,27 222,23 229,18 237,13 244,8 251,2 257,-4 263,-11 269,-18 275,-25 280,-32" stroke="rgb(134,134,134)" stroke-width="1.8"/><polyline points="67,302 61,296 54,289 48,283 42,276 37,269 31,262 25,255 19,249 12,243 5,237 -2,232 -10,227 -18,223 -25,218" stroke="rgb(142,142,142)" stroke-width="1.4"/><polyline points="-15,188 -7,184 1,180 9,176 17,171 24,165 30,159 37,153 43,146 49,140 55,133 62,127 69,121 76,116 84,112 92,108 101,105 109,102 118,101 127,100 136,99 145,100 154,101 163,103 172,105 180,108 188,112 197,115 205,118 213,122 222,125 230,128 239,131 248,133 256,135 265,136 274,138 283,140 292,142 300,145 309,147 317,150 326,154 334,158 341,162 349,168 356,173 362,179 369,185 376,191 383,196 391,202 398,207 406,211 414,215" stroke="rgb(128,128,128)" stroke-width="3"/><polyline points="78,302 81,294 85,285 89,277 93,270 98,262 102,254 107,246 111,238 115,230 119,222 123,214 128,206 132,198 135,190 138,181 141,173 143,164 144,155 144,146 144,137 144,128 143,119 142,110 141,101 139,92 137,84 136,75 134,66 131,57 129,49 127,40 125,31 123,22 121,14 118,5 116,-4 113,-12 109,-20 105,-28" stroke="rgb(132,132,132)" stroke-width="3"/><polyline points="73,-15 77,-7 82,0 86,9 89,17 92,25 96,34 99,42 104,50 108,57 113,65 118,73 122,81 126,89 130,97 134,105 138,113 142,121 146,129 151,137 155,145 160,152 164,160 169,168 173,176 178,183 183,191 188,199 192,206 197,214 202,221 208,229 213,236 219,243 224,250 230,257 236,263 243,270 249,276 257,281 264,286 272,290 280,294 289,297 297,299 306,301 315,303 324,304 333,305 342,305 351,306 360,305 369,305 378,305 387,305 396,305 405,304 414,303" stroke="rgb(145,145,145)" stroke-width="2.2"/><polyline points="-15,73 -6,71 3,71 12,71 21,72 30,73 38,75 47,78 56,81 64,85 72,89 79,93 87,98 94,104 101,109 108,115 115,121 121,128 127,135 132,142 137,150 141,157 145,165 149,174 151,182 154,191 156,200 158,209 159,217 160,226 161,235 161,244 163,253 163,262 165,271 166,280 167,289 168,298 169,307 171,316" stroke="rgb(141,141,141)" stroke-width="3"/><polyline points="397,252 390,247 382,242 375,236 368,231 361,225 355,219 349,212 344,205 339,197 335,189 331,181 328,173 325,164 323,155 322,146 321,137 321,128 321,119 321,110 321,101 321,92 321,83 322,74 323,65 324,56 326,48 328,39 330,30 332,21 334,13 336,4 338,-5 341,-13 344,-22 348,-30" stroke="rgb(154,154,154)" stroke-width="1.4"/><polyline points="397,147 390,153 383,159 376,164 368,169 361,173 353,177 344,181 336,184 327,187 319,189 310,192 301,193 292,195 284,197 275,200 266,202 257,204 249,206 240,209 232,212 223,214 214,217 206,220 198,224 190,228 182,233 175,238 168,244 161,250 155,256 149,263 143,270 138,277 132,284 127,292 122,299 117,306 112,314 106,321" stroke="rgb(140,140,140)" stroke-width="3"/><polyline points="-15,277 -6,277 3,278 12,278 21,278 30,279 39,280 48,281 57,282 66,283 75,284 83,286 92,288 101,290 110,293 118,296 126,300 134,304 141,310 148,315" stroke="rgb(153,153,153)" stroke-width="3"/><polyline points="-15,201 -7,204 1,208 9,213 17,217 25,222 32,227 39,233 45,240 51,246 57,253 63,260 68,267 74,274 79,282 84,289 89,296 94,304 100,311 106,318" stroke="rgb(148,148,148)" stroke-width="2.6"/><polyline points="12,-15 4,-11 -4,-7 -12,-3 -19,2 -27,8" stroke="rgb(138,138,138)" stroke-width="2.2"/><polyline points="106,302 107,293 108,284 108,275 109,266 109,257 109,248 110,239 110,230 111,221 112,212 113,203 114,194 115,185 117,177 120,168 122,159 126,151 129,143 134,135 139,128 145,121 150,114 157,107 164,101 171,96 178,90 185,85 193,81 201,76 208,71 215,65 222,60 229,54 235,48 242,41 249,35 256,30 263,24 270,18 277,12 283,7 290,1 296,-6 302,-13 307,-20 312,-28" stroke="rgb(134,134,134)" stroke-width="1.8"/><polyline points="-15,217 -7,222 1,227 8,231 16,235 24,239 32,244 40,249 47,254 55,259 62,264 69,269 76,275 84,280 91,285 98,290 106,295 113,301 121,305 129,310 137,314 145,317" stroke="rgb(148,148,148)" stroke-width="2.6"/><polyline points="279,-15 287,-10 294,-5 302,0 309,5 316,11 323,16 330,22 336,29 343,35 349,41 355,48 361,54 367,61 372,69 377,77 381,85 384,93 387,102 389,110 391,119 392,128 394,137 395,146 396,155 398,164 400,172 403,181 407,189 411,197" stroke="rgb(143,143,143)" stroke-width="2.2"/><polyline points="397,52 392,44 388,36 383,28 379,20 376,12 373,4 370,-5 368,-14 367,-23 366,-32" stroke="rgb(154,154,154)" stroke-width="2.6"/><polyline points="87,-15 92,-8 97,-0 102,7 106,15 110,23 114,31 117,40 120,48 122,57 125,66 127,74 130,83 132,92 134,100 136,109 138,118 140,127 140,136 141,145 141,154 141,163 141,172 141,181 141,190 141,199 142,208 143,217 143,226 144,235 145,244 147,252 150,261 153,269 157,278 161,285 166,293 171,301 176,308 182,315 188,322" stroke="rgb(151,151,151)" stroke-width="1.8"/><polyline points="397,153 388,152 379,150 370,148 362,147 353,145 344,144 335,143 326,142 317,142 308,142 299,143 290,144 281,147 273,149 264,152 256,156 248,160 239,163 231,166 223,169 214,172 206,175 197,178 188,180 180,183 171,185 162,187 154,190 145,193 137,196 128,199 120,202 111,205 103,209 95,212 86,215 78,219 70,223 62,228 55,232 47,237 39,240 30,244 22,248 14,252 6,256 -2,260 -10,264 -18,267 -27,271" stroke="rgb(146,146,146)" stroke-width="3"/><polyline points="-15,100 -8,105 -0,111 7,116 13,122 20,129 26,135 31,142 37,150 41,157 46,165 50,173 53,182 55,190 57,199 59,208 60,217 62,226 63,235 63,244 62,253 61,262 59,271 57,279 55,288 53,297 51,306 49,314 47,323" stroke="rgb(133,133,133)" stroke-width="1.4"/><polyline points="397,246 388,246 379,246 370,246 361,245 352,245 343,244 334,243 325,242 316,241 307,240 298,239 290,237 281,234 272,231 264,228 256,224 248,220 240,217 232,213 223,209 215,205 207,202 199,198 190,195 182,191 175,186 167,181 160,176 152,171 145,166 137,161 130,156 123,150 116,145 109,138 103,132 97,125 91,119 85,112 79,105 73,98 67,91 62,84 57,77 52,69 47,61 42,54 38,46 33,39 28,31 24,23 20,15 16,7 13,-2 9,-10 4,-17 -0,-25" stroke="rgb(131,131,131)" stroke-width="2.6"/><polyline points="397,145 391,151 384,157 378,164 371,170 365,176 358,182 352,189 346,196 341,203 336,210 332,218 328,227 326,235 323,244 321,253 319,261 316,270 314,279 310,287 307,295 304,304 300,312 295,320" stroke="rgb(128,128,128)" stroke-width="2.6"/><polyline points="71,-15 66,-8 60,-1 55,7 50,14 45,22 41,30 38,38 34,46 29,54 25,62 21,70 17,78 12,86 8,93 3,101 -1,109 -5,117 -9,125 -12,134 -14,143 -16,151 -17,160 -18,169 -19,178 -21,187 -24,196 -26,204" stroke="rgb(132,132,132)" stroke-width="1.4"/><polyline points="397,-9 393,-1 389,7 386,16 382,24 378,32 373,39 368,47 362,54 356,61 350,67 343,73 336,79 329,84 321,89 314,94 306,98 299,103 291,109 284,114 278,121 272,128 267,135 262,142 257,150 253,158 248,166 245,174 241,182 237,190 233,198 229,206 226,215 224,224 223,233 222,242 221,251 221,260 221,269 222,278 222,287 223,295 224,304 225,313 226,322" stroke="rgb(150,150,150)" stroke-width="1.4"/><polyline points="76,-15 81,-8 87,-0 92,7 97,14 102,22 107,29 112,37 117,45 121,53 125,61 129,69 134,76 139,84 144,91 149,98 155,106 160,113 164,121 169,128 173,137 176,145 179,154 181,162 183,171 185,180 187,189 188,197 190,206 192,215 193,224 193,233 194,242 193,251 192,260 190,269 188,278 186,286 183,295 180,303 177,312 173,320" stroke="rgb(128,128,128)" stroke-width="1.8"/><polyline points="397,176 392,183 388,191 383,199 377,206 372,213 367,221 361,228 356,235 350,241 343,248 336,253 329,259 322,265 315,270 308,275 301,281 294,287 286,292 279,297 272,302 264,307 256,311 248,315 240,318" stroke="rgb(152,152,152)" stroke-width="2.6"/><polyline points="-15,149 -7,144 0,140 8,135 16,131 24,127 33,124 41,121 50,119 59,118 68,117 77,117 86,117 95,119 103,121 112,123 120,127 128,131 136,135 144,140 151,145 158,151 164,157 171,164 177,170 183,177 189,183 196,190 202,196 208,203 214,209 219,217 224,224 229,232 234,239 238,247 243,255 248,263 253,270 258,277 264,284 270,291 276,297 283,303 290,309 297,314 304,320" stroke="rgb(131,131,131)" stroke-width="2.6"/><polyline points="-15,59 -11,51 -8,43 -4,35 -0,27 3,18 5,9 7,1 8,-8 9,-17 9,-26" stroke="rgb(152,152,152)" stroke-width="3"/><polyline points="-15,20 -11,12 -8,4 -4,-5 -1,-13 3,-21 6,-30" stroke="rgb(143,143,143)" stroke-width="2.6"/><polyline points="397,143 390,137 383,132 375,127 368,122 360,117 353,111 346,106 338,101 331,96 324,91 316,85 309,80 302,74 295,68 289,62 282,57 275,50 269,44 262,38 255,33 248,27 241,22 233,16 226,11 219,5 212,-0 205,-6 198,-11 190,-16 182,-21 174,-24 166,-28" stroke="rgb(138,138,138)" stroke-width="2.6"/><polyline points="-15,231 -12,223 -8,215 -4,207 -0,199 4,191 9,183 13,175 18,168 23,160 28,152 33,145 38,138 44,131 50,124 55,117 61,110 67,103 73,96 78,89 83,81 87,73 90,65 94,57 98,49 102,41 106,33 111,25 115,17 120,9 125,2 130,-5 136,-12 141,-19 147,-26" stroke="rgb(133,133,133)" stroke-width="2.2"/><polyline points="397,64 390,58 383,52 377,46 370,40 364,33 359,26 353,19 348,12 343,4 339,-4 336,-12 333,-21 331,-30" stroke="rgb(146,146,146)" stroke-width="1.8"/><polyline points="17,-15 23,-9 30,-3 37,3 43,9 49,16 54,23 59,31 63,39 66,47 69,56 71,65 73,74 74,82 75,91 75,100 75,109 74,118 74,127 74,136 74,145 73,154 73,163 73,172 74,181 74,190 76,199 77,208 80,217 82,225 86,234 90,242 94,250 98,258 103,265 108,273 113,280 118,288 124,295 129,302 133,310 138,318" stroke="rgb(148,148,148)" stroke-width="3"/><polyline points="172,302 175,293 177,285 179,276 180,267 181,258 181,249 181,240 181,231 180,222 178,213 177,204 175,195 173,187 170,178 167,170 163,161 160,153 157,145 153,136 149,128 145,120 141,112 137,104 134,96 130,88 126,79 122,71 119,63 115,55 111,47 107,39 104,30 102,21 100,13 98,4 97,-5 97,-14 97,-23 98,-32" stroke="rgb(132,132,132)" stroke-width="2.6"/><polyline points="363,-15 355,-11 347,-7 339,-3 331,1 323,5 316,10 308,15 300,20 293,25 286,30 278,35 271,40 263,45 255,49 247,53 239,57 230,60 222,62 213,63 204,64 195,64 186,64 177,63 168,61 159,59 151,56 142,53 134,49 127,44 120,38 113,32 107,26 101,19 96,12 91,4 87,-4 83,-12 80,-21 77,-29" stroke="rgb(147,147,147)" stroke-width="1.8"/><polyline points="249,-15 252,-7 256,2 259,10 261,19 263,28 265,36 267,45 268,54 269,63 269,72 269,81 268,90 267,99 266,108 265,117 264,126 262,135 260,143 258,152 256,161 254,170 252,178 250,187 248,196 248,205 247,214 248,223 249,232 250,241 252,250 255,258 258,267 261,275 265,283 270,291 275,298 281,305 287,312 293,318" stroke="rgb(141,141,141)" stroke-width="2.6"/><polyline points="-15,267 -7,271 1,275 9,279 17,283 25,287 33,292 41,296 48,301 56,307 63,312 70,318" stroke="rgb(137,137,137)" stroke-width="1.4"/><polyline points="397,18 388,16 380,14 371,12 362,11 353,9 344,9 335,8 326,9 317,10 308,12 300,14 291,17 283,20 275,24 267,29 260,34 253,40 247,47 241,54 236,61 231,69 227,77 223,85 219,93 215,101 212,109 208,118 204,126 201,134 198,143 196,151 193,160 191,169 190,178 189,187 188,196 187,204 187,213 187,222 187,231 188,240 189,249 190,258 193,267 195,276 199,284 202,292 206,300 210,308 214,316" stroke="rgb(152,152,152)" stroke-width="1.4"/><polyline points="336,-15 343,-10 351,-6 359,-1 366,4 374,9 381,14 389,19 396,24 404,28 412,33" stroke="rgb(144,144,144)" stroke-width="1.8"/><polyline points="-15,105 -9,98 -4,91 1,84 6,76 12,69 17,62 22,54 28,47 33,40 39,33 44,26 49,18 55,11 60,4 65,-4 69,-11 74,-19 79,-27" stroke="rgb(138,138,138)" stroke-width="1.8"/><polyline points="11,-15 4,-8 -2,-2 -8,5 -14,11 -20,18 -25,26 -30,33" stroke="rgb(129,129,129)" stroke-width="1.4"/><polyline points="-15,251 -8,256 0,261 8,265 16,269 24,273 32,276 41,280 49,283 58,285 67,287 76,289 84,291 93,293 102,295 111,296 119,299 128,301 137,303 146,306 154,308 163,310 172,312 181,313 190,314 199,315" stroke="rgb(131,131,131)" stroke-width="2.2"/><polyline points="29,-15 21,-11 13,-7 5,-3 -2,2 -10,7 -17,12 -25,17 -33,22" stroke="rgb(144,144,144)" stroke-width="1.4"/><polyline points="247,-15 255,-10 262,-4 269,2 275,8 282,14 289,20 296,26 302,32 309,38 316,43 323,49 330,54 337,60 345,65 352,70 359,76 366,81 373,87 381,92 388,97 396,102 403,107 411,111" stroke="rgb(131,131,131)" stroke-width="1.8"/><polyline points="-15,9 -8,4 -0,-1 8,-6 16,-10 24,-14 32,-18 40,-22 48,-26" stroke="rgb(138,138,138)" stroke-width="1.4"/><polyline points="338,-15 336,-6 334,2 332,11 330,20 329,29 327,38 326,47 325,56 323,65 323,74 322,83 322,92 322,101 322,110 321,119 320,128 319,136 318,145 316,154 315,163 314,172 314,181 314,190 315,199 316,208 318,217 321,225 325,234 329,242 333,249 338,257 343,264 349,271 355,278 361,284 368,291 374,297 381,303 387,309 394,315 402,320" stroke="rgb(144,144,144)" stroke-width="1.4"/><polyline points="364,302 367,293 369,285 372,276 374,267 377,259 380,250 383,242 387,234 392,226 396,218 401,211 407,204 413,197" stroke="rgb(140,140,140)" stroke-width="1.4"/><polyline points="397,78 388,75 380,73 371,70 362,68 354,65 345,63 336,61 328,58 319,55 311,52 302,50 293,47 285,45 276,44 267,42 258,41 249,39 240,39 231,38 222,38 213,39 204,40 195,41 187,43 178,45 169,48 161,52 153,56 146,61 138,66 131,71 124,77 116,82 109,87 101,92 94,96 86,101 78,106 70,110 63,115 55,120 47,124 39,128 31,132 23,136 15,139 6,142 -2,145 -11,148 -19,151 -28,154" stroke="rgb(142,142,142)" stroke-width="1.8"/><polyline points="28,-15 20,-10 14,-4 7,2 1,9 -4,16 -9,24 -14,32 -18,40 -22,48 -25,56 -28,65" stroke="rgb(148,148,148)" stroke-width="1.8"/><polyline points="329,-15 335,-8 340,-0 344,8 349,15 354,22 360,30 365,37 370,45 375,52 380,59 386,66 392,73 397,80 403,87 409,94 414,102" stroke="rgb(148,148,148)" stroke-width="3"/><polyline points="20,-15 26,-8 31,-1 37,5 43,12 49,19 55,26 61,33 67,39 74,44 82,50 89,54 97,58 106,62 114,64 123,66 132,68 141,69 150,70 159,70 168,69 177,67 186,65 194,62 202,59 210,55 218,50 225,45 232,39 239,33 246,27 253,22 260,16 267,11 275,5 282,1 290,-4 297,-10 304,-15 311,-21 317,-28" stroke="rgb(148,148,148)" stroke-width="3"/></g>
<g fill="none" stroke-linecap="round" stroke-linejoin="round" filter="url(#bl1)"><polyline points="-15,302 -6,299 2,297 11,295 20,293 29,291 37,288 46,285 54,281 62,277 70,272 77,267 84,262 91,256 97,249 102,242 108,235 113,227 117,219 121,211 124,203 127,194 129,185 131,177 132,168 132,159 133,150 132,141 132,132 131,123 129,114 127,105 125,96 123,88 120,79 116,71 112,63 107,56 102,48 97,40 92,33 87,25 82,18 77,11 72,3 66,-4 61,-11 57,-19 52,-27" stroke="rgb(160,160,160)" stroke-width="2.5"/><polyline points="226,-15 230,-7 235,1 240,8 245,16 250,23 255,30 261,38 266,45 272,52 277,59 283,66 288,73 294,80 300,87 306,93 313,99 320,105 328,109 336,114 344,118 352,121 361,124 369,127 378,130 386,133 395,136 403,139 412,142" stroke="rgb(160,160,160)" stroke-width="2.2"/><polyline points="348,-15 356,-11 364,-6 371,-1 378,4 385,9 393,15 400,20 407,26 414,32" stroke="rgb(160,160,160)" stroke-width="1.9"/><polyline points="397,102 389,106 381,110 373,115 366,119 358,124 350,129 343,134 336,140 329,145 321,150 313,154 305,158 297,161 288,164 279,166 270,167 261,168 252,168 243,169 234,169 225,169 216,170 207,170 198,170 189,169 180,168 172,166 163,164 154,161 146,158 138,155 129,152 121,149 112,146 103,143 95,140 87,136 79,132 71,128 63,123 56,117 49,112 43,106 36,99 30,92 25,85 20,78 15,70 12,62 9,53 6,45 5,36 4,27 3,18 4,9 4,-0 5,-9 7,-18 9,-27" stroke="rgb(160,160,160)" stroke-width="1.5"/><polyline points="397,199 389,203 381,208 373,212 365,216 357,221 350,225 342,229 333,233 325,237 317,240 308,242 299,244 290,246 281,247 273,248 264,249 255,250 246,251 237,252 228,253 219,254 210,254 201,255 192,255 183,255 174,256 165,256 156,256 147,256 138,256 129,257 120,256 111,256 102,255 93,253 84,251 76,249 67,246 59,243 50,240 42,237 33,234 25,230 17,226 9,222 1,218 -7,214 -15,210 -23,206 -31,201" stroke="rgb(160,160,160)" stroke-width="2.8"/><polyline points="-15,24 -9,18 -2,11 4,5 10,-2 16,-8 23,-15 29,-21 37,-26" stroke="rgb(161,161,161)" stroke-width="3.2"/><polyline points="-15,53 -11,45 -6,38 -1,30 5,23 11,16 17,10 24,4 31,-2 38,-7 46,-11 54,-15 62,-19 71,-22 79,-24 88,-26" stroke="rgb(161,161,161)" stroke-width="3.2"/><polyline points="397,-8 392,-0 387,7 383,15 378,23 375,31 372,40 369,48 367,57 366,66 365,75 366,84 366,93 367,102 369,111 371,119 374,128 378,136 382,144 386,152 391,160 396,167 402,174 408,180 415,187" stroke="rgb(161,161,161)" stroke-width="2.8"/><polyline points="-15,131 -12,140 -9,148 -6,156 -2,165 1,173 6,181 10,189 15,196 20,204 26,211 31,218 37,225 44,231 51,237 58,242 66,247 73,251 81,256 89,260 97,264 106,267 114,271 122,274 130,278 138,282 146,286 154,290 162,294 171,298 178,303 186,307 193,313 200,318" stroke="rgb(162,162,162)" stroke-width="1.5"/><polyline points="374,-15 372,-6 369,2 367,11 364,20 360,28 356,36 351,44 346,51 341,58 336,66 331,73 325,80 319,87 313,94 307,100 301,107 294,112 287,118 279,123 272,128 264,132 256,136 248,140 239,143 231,147 223,151 215,156 208,160 200,165 193,171 186,176 179,182 173,189 167,196 162,203 157,211 152,218 147,225 141,233 137,240 133,248 129,256 125,265 122,273 120,282 117,291 115,299 112,308 110,317" stroke="rgb(162,162,162)" stroke-width="2.8"/><polyline points="397,3 392,11 387,19 382,26 376,33 370,39 363,45 356,51 349,56 342,62 334,66 326,70 318,73 309,76 300,79 292,81 283,83 274,85 265,87 257,90 248,92 239,93 230,95 221,97 213,98 204,100 195,101 186,101 177,101 168,101 159,99 150,97 142,95 133,91 125,87 117,83 110,78 103,72 96,66 89,60 83,54 77,47 71,41 64,34 58,28 52,21 46,15 40,8 34,1 28,-5 22,-12 16,-19 11,-26" stroke="rgb(162,162,162)" stroke-width="2.2"/><polyline points="44,302 52,299 61,296 69,293 78,291 87,289 96,288 105,287 114,286 123,286 132,286 141,287 150,288 158,290 167,293 175,296 184,300 192,304 200,307 208,311 217,314 225,318" stroke="rgb(162,162,162)" stroke-width="1.5"/><polyline points="57,302 50,297 43,291 36,285 29,279 23,273 17,267 10,260 3,255 -4,249 -11,243 -18,237 -24,231 -30,225" stroke="rgb(162,162,162)" stroke-width="2.2"/><polyline points="152,-15 151,-6 149,3 147,12 145,20 143,29 140,37 136,46 132,54 127,62 123,69 118,77 114,85 110,93 106,101 103,109 99,118 95,126 91,134 86,141 81,149 76,156 71,164 65,171 60,178 54,185 49,192 43,199 37,206 31,212 25,219 19,226 13,232 7,239 1,246 -6,252 -13,258 -20,263 -27,268" stroke="rgb(163,163,163)" stroke-width="2.5"/><polyline points="265,-15 267,-6 269,3 270,12 271,21 272,29 274,38 276,47 280,55 284,63 288,71 293,79 298,86 304,93 311,99 318,105 325,110 333,115 341,119 349,123 357,126 366,128 375,131 383,133 392,135 401,137 410,138 419,139" stroke="rgb(163,163,163)" stroke-width="2.2"/><polyline points="289,-15 291,-6 292,3 294,12 296,20 298,29 299,38 301,47 302,56 304,65 306,73 308,82 311,91 314,99 317,108 320,116 323,125 326,133 329,142 332,150 334,159 335,168 336,177 337,186 337,195 336,204 335,213 333,221 331,230 328,239 325,247 322,255 318,263 313,271 308,279 303,286 298,294 292,300 286,307 280,314 274,321" stroke="rgb(163,163,163)" stroke-width="2.8"/><polyline points="-15,205 -7,201 1,198 10,194 18,190 26,187 34,183 43,180 51,177 60,175 69,172 77,170 86,169 95,169 104,168 113,168 122,169 131,170 140,171 149,173 158,175 166,177 175,180 183,183 192,187 200,191 208,195 216,199 223,204 230,210 237,215 244,222 249,229 255,236 259,244 263,252 267,260 270,268 273,277 275,286 276,295 277,304 277,313 276,322" stroke="rgb(164,164,164)" stroke-width="2.5"/><polyline points="-15,282 -8,287 -1,293 6,298 14,304 21,309 29,313 36,318" stroke="rgb(164,164,164)" stroke-width="3.2"/><polyline points="397,232 391,239 384,245 377,251 370,257 363,262 356,267 348,271 340,275 331,278 323,281 314,283 305,284 296,285 287,286 278,286 269,286 260,285 251,284 242,283 234,281 225,278 216,276 207,274 199,272 190,270 181,268 172,266 163,265 154,264 145,264 136,263 127,264 118,264 110,265 101,267 92,270 83,273 75,276 67,279 58,281 49,284 41,287 32,290 24,293 16,296 7,299 -1,302 -10,305 -19,306 -28,308" stroke="rgb(164,164,164)" stroke-width="1.9"/><polyline points="397,60 388,63 380,65 371,66 362,67 353,68 344,69 335,70 326,70 317,70 308,71 299,71 290,72 281,74 273,77 264,80 256,84 248,89 241,94 233,99 226,104 220,111 214,117 208,124 203,132 199,140 195,148 192,156 190,165 188,174 187,183 187,192 187,201 189,210 190,219 192,227 195,236 199,244 203,252 207,260 212,267 218,274 224,281 231,287 238,292 246,297 254,301 262,305 270,308 279,310 288,312 297,313 306,314 315,314 324,314 333,313 342,312 351,311 359,309 368,306 377,304 385,301 394,298 402,295 411,292" stroke="rgb(164,164,164)" stroke-width="1.5"/><polyline points="321,302 316,295 311,287 306,279 302,271 298,263 295,255 292,246 290,237 288,229 287,220 287,211 288,202 288,193 289,184 291,175 292,166 294,157 296,148 297,139 300,131 303,122 307,114 311,106 315,98 319,90 324,83 328,75 333,67 337,59 341,51 345,43 349,35 352,26 355,18 358,9 360,1 362,-8 364,-17 365,-26" stroke="rgb(165,165,165)" stroke-width="3.2"/><polyline points="367,-15 359,-11 351,-7 343,-3 335,2 328,7 321,13 314,19 308,26 302,33 297,40 292,47 286,55 281,62 276,69 270,76 265,84 260,91 254,98 249,105 243,112 237,119 231,126 225,132 219,139 214,146 209,154 204,161 199,169 194,177 190,185 186,192 181,200 176,207 170,215 165,222 160,229 154,236 149,244 144,251 139,259 134,266 129,274 124,281 119,289 114,296 109,304 104,311 99,318" stroke="rgb(165,165,165)" stroke-width="2.8"/><polyline points="5,302 9,294 15,287 20,280 26,273 32,266 38,260 45,254 51,248 58,242 65,236 72,230 79,225 86,220 94,215 102,211 111,208 119,205 128,203 137,200 145,198 154,197 163,196 172,197 181,198 190,199 199,201 208,203 216,206 225,209 233,213 241,217 249,221 257,226 264,231 272,236 279,241 286,246 294,251 301,257 308,262 316,267 323,272 331,277 338,282 346,287 353,292 361,297 368,301 376,305 384,310 392,315 399,320" stroke="rgb(165,165,165)" stroke-width="2.8"/><polyline points="-15,240 -6,240 3,241 12,241 21,241 30,241 39,241 48,241 57,241 66,242 75,242 84,243 93,244 102,246 110,248 119,251 127,254 136,258 144,261 152,265 160,270 167,274 175,279 183,283 191,288 198,293 205,299 212,304 219,310 226,316" stroke="rgb(166,166,166)" stroke-width="2.2"/><polyline points="202,-15 201,-6 201,3 202,12 204,21 206,30 208,38 212,47 216,55 220,63 225,70 230,77 236,84 243,90 250,96 257,101 264,106 272,111 279,116 287,122 294,127 302,132 309,137 317,142 324,146 332,151 340,156 347,160 355,165 362,170 370,176 377,180 385,185 394,188 402,191 411,193" stroke="rgb(166,166,166)" stroke-width="2.2"/><polyline points="373,-15 366,-9 360,-2 354,5 349,12 344,19 339,27 334,35 330,42 325,50 321,58 317,66 313,74 308,82 305,90 301,99 298,107 294,115 291,123 286,131 281,139 276,146 270,153 263,159 256,165 249,170 242,175 234,179 226,183 217,186 209,190 200,193 192,196 183,198 175,201 166,203 157,205 148,207 140,209 131,212 123,215 114,218 106,221 98,225 89,229 82,234 74,239 67,244 61,251 55,257 49,264 44,271 38,279 33,286 28,293 22,300 16,307 10,314 4,320" stroke="rgb(166,166,166)" stroke-width="2.5"/><polyline points="-15,185 -11,177 -6,169 -1,162 4,155 10,148 16,141 22,135 29,129 37,124 44,119 52,114 60,111 68,107 77,105 86,103 95,102 104,101 113,101 122,100 131,100 140,100 149,99 158,99 167,99 176,99 185,100 194,101 203,102 212,102 221,103 230,104 239,104 248,104 257,103 266,102 274,101 283,100 292,98 301,96 310,93 318,90 326,87 335,84 343,80 352,77 360,74 368,70 376,66 385,63 393,59 401,56 409,52 417,47" stroke="rgb(167,167,167)" stroke-width="2.5"/><polyline points="397,134 389,129 381,125 373,122 365,118 357,114 349,110 341,106 333,102 325,97 318,92 311,86 304,80 298,73 292,66 286,60 281,52 276,45 272,37 268,29 264,21 261,12 257,4 253,-4 248,-12 244,-19 238,-26" stroke="rgb(167,167,167)" stroke-width="2.2"/><polyline points="397,197 392,189 388,181 383,173 379,166 374,158 370,150 365,142 360,135 355,127 351,119 345,112 340,105 335,98 329,91 323,84 316,79 308,73 301,68 294,63 286,58 278,53 270,50 262,46 253,44 245,41 236,40 227,39 218,39 209,40 200,41 191,42 182,43 173,45 164,46 155,47 146,47 137,47 128,46 119,45 111,43 102,40 94,36 86,32 78,27 71,21 65,15 58,9 52,2 46,-4 40,-11 35,-18 29,-26" stroke="rgb(167,167,167)" stroke-width="2.8"/><polyline points="-15,195 -6,197 2,199 11,201 20,202 29,204 38,205 47,205 56,206 65,206 74,206 83,205 92,205 101,204 110,203 119,202 128,200 136,198 145,197 154,195 163,194 172,193 181,192 190,191 199,191 208,192 217,194 226,196 234,199 242,202 251,206 259,210 267,213 275,217 284,220 292,223 301,226 309,228 318,229 327,230 336,231 345,231 354,232 363,232 372,232 381,232 390,231 399,230 408,228 417,227" stroke="rgb(168,168,168)" stroke-width="2.2"/><polyline points="147,302 146,293 146,284 144,275 142,266 140,258 136,249 132,241 128,233 123,226 117,219 111,213 104,207 97,201 90,196 82,192 73,188 65,185 56,183 47,181 39,180 30,179 21,180 12,181 3,181 -6,182 -15,182 -24,183 -33,184" stroke="rgb(168,168,168)" stroke-width="3.2"/><polyline points="237,302 241,294 245,286 251,279 256,272 261,264 266,257 272,250 277,242 282,235 287,227 291,220 295,212 299,203 301,195 304,186 305,177 306,168 306,159 306,150 305,141 303,132 300,124 297,115 293,107 288,99 283,92 278,85 273,77 268,70 263,62 259,54 254,47 251,38 248,30 246,21 244,12 243,3 243,-6 243,-15 244,-24 245,-33" stroke="rgb(168,168,168)" stroke-width="2.8"/><polyline points="335,-15 343,-11 351,-6 359,-2 367,2 375,6 383,10 391,14 399,18 407,23 414,28" stroke="rgb(168,168,168)" stroke-width="3.2"/><polyline points="390,302 391,293 392,284 393,275 393,266 393,257 393,248 392,239 391,230 390,221 389,212 387,204 384,195 381,187 377,178 374,170 370,162 366,154 362,146 359,137 356,129 354,120 351,111 349,103 346,94 343,86 341,77 338,68 336,60 333,51 331,42 329,34 328,25 327,16 326,7 326,-2 327,-11 329,-20 331,-29" stroke="rgb(168,168,168)" stroke-width="1.5"/><polyline points="-15,214 -10,222 -5,229 1,236 7,243 13,249 19,256 25,262 31,269 37,276 43,283 48,290 54,297 58,305 63,313 67,321" stroke="rgb(169,169,169)" stroke-width="3.2"/><polyline points="397,300 391,293 385,286 380,279 374,272 369,265 364,257 359,249 355,242 350,234 345,226 340,219 334,212 329,205 324,198 318,190 313,183 308,175 303,168 299,160 294,152 290,144 286,136 282,128 279,120 276,111 274,102 272,94 270,85 269,76 268,67 267,58 266,49 266,40 266,31 265,22 264,13 262,4 259,-4 256,-13 253,-21 249,-29" stroke="rgb(169,169,169)" stroke-width="1.9"/><polyline points="-15,198 -6,199 3,199 12,199 21,199 30,199 39,198 48,196 56,194 65,191 73,188 82,184 90,180 97,175 105,170 112,165 119,159 125,152 130,145 136,138 140,130 144,122 148,114 151,105 155,97 158,89 162,81 167,73 171,65 176,58 182,50 187,43 193,37 200,31 207,26 215,21 223,16 231,13 240,10 248,7 257,5 266,2 274,-0 283,-3 291,-6 299,-10 307,-14 315,-18 323,-23 330,-29" stroke="rgb(170,170,170)" stroke-width="3.2"/><polyline points="-15,78 -6,77 3,77 12,77 21,77 30,77 39,78 48,79 57,80 66,80 75,82 84,83 92,85 101,87 110,89 119,91 128,93 136,95 145,97 154,99 162,102 171,105 179,109 187,113 194,118 202,124 208,130 214,136 220,143 225,150 230,158 234,166 237,175 240,183 243,192 246,200 248,209 250,218 252,226 254,235 256,244 258,253 259,262 260,271 261,280 262,289 262,298 261,307 261,316" stroke="rgb(170,170,170)" stroke-width="3.2"/><polyline points="342,302 335,296 328,291 321,285 314,280 307,274 300,268 293,262 286,256 280,250 273,244 267,237 262,230 257,223 252,215 247,207 244,199 241,191 238,182 237,173 235,164 235,155 235,146 236,137 237,128 239,119 241,111 244,102 247,94 251,86 256,78 261,71 267,64 273,57 280,51 286,45 293,39 300,33 307,28 315,23 323,19 330,14 338,10 347,6 354,2 362,-3 369,-8 377,-14 383,-19 390,-25" stroke="rgb(170,170,170)" stroke-width="1.5"/><polyline points="116,302 118,293 120,285 123,276 125,267 128,259 132,251 136,243 141,235 145,227 150,220 156,213 162,206 169,200 176,194 183,189 190,184 198,180 207,176 215,173 224,171 233,169 242,168 250,166 259,165 268,164 277,163 286,163 295,162 304,162 313,163 322,164 331,167 339,169 348,173 356,176 364,180 372,184 380,189 387,194 394,200 401,206 407,212 414,218" stroke="rgb(171,171,171)" stroke-width="3.2"/><polyline points="239,302 235,294 230,286 227,278 223,270 220,261 216,253 213,245 209,236 206,228 204,219 202,210 201,202 199,193 197,184 196,175 194,166 192,157 191,148 191,139 191,130 191,121 191,112 192,103 193,95 195,86 196,77 197,68 198,59 198,50 198,41 197,32 196,23 196,14 196,5 196,-4 197,-13 198,-22 199,-31" stroke="rgb(171,171,171)" stroke-width="2.2"/><polyline points="370,-15 369,-6 368,3 368,12 368,21 368,30 369,39 370,48 372,56 375,65 379,73 383,81 387,89 392,97 396,105 400,113 405,121 409,128 414,136" stroke="rgb(171,171,171)" stroke-width="3.2"/><polyline points="397,215 389,211 380,208 372,204 364,201 355,197 347,194 339,190 332,185 324,180 317,174 311,168 304,161 299,154 294,147 289,139 285,131 281,123 278,115 275,106 272,98 270,89 267,80 264,72 262,63 259,55 257,46 255,37 253,28 250,20 248,11 246,2 244,-6 241,-15 238,-24 235,-32" stroke="rgb(171,171,171)" stroke-width="2.8"/><polyline points="135,-15 142,-10 149,-4 156,1 163,8 169,14 175,21 182,27 189,33 196,38 204,42 212,46 220,50 229,53 237,56 245,60 253,64 261,69 268,74 275,80 281,86 288,93 293,100 298,107 303,115 308,123 312,131 316,139 319,147 322,155 325,164 327,173 328,182 329,191 330,200 329,209 329,218 327,227 325,235 323,244 319,252 315,260 310,268 305,275 299,282 293,289 287,295 280,301 273,307 266,312 258,316" stroke="rgb(172,172,172)" stroke-width="1.5"/><polyline points="206,302 212,296 219,290 227,285 234,279 241,274 248,269 256,264 263,259 271,254 279,251 288,247 296,245 305,243 314,242 323,241 332,239 341,238 350,236 358,234 367,231 375,228 384,225 392,221 400,217 408,213 416,208" stroke="rgb(173,173,173)" stroke-width="1.5"/><polyline points="228,302 228,293 227,284 227,275 227,266 227,257 227,248 228,239 229,230 230,221 230,212 231,203 231,194 231,185 230,176 229,167 227,158 225,150 223,141 220,132 217,124 214,116 210,107 206,99 202,92 197,84 192,76 187,69 183,61 179,53 176,44 174,35 172,27 170,18 169,9 167,0 165,-9 164,-18 162,-26" stroke="rgb(173,173,173)" stroke-width="2.8"/><polyline points="397,123 393,115 388,107 384,99 380,91 376,83 373,75 369,66 366,58 362,49 359,41 355,33 351,25 347,17 343,9 340,1 336,-8 334,-16 331,-25" stroke="rgb(173,173,173)" stroke-width="2.5"/><polyline points="397,133 392,126 387,118 383,110 378,103 372,96 366,89 360,82 353,76 347,71 339,65 332,60 324,56 315,53 307,49 298,47 290,44 281,41 273,38 265,34 257,30 249,26 241,21 233,17 225,12 217,9 209,5 201,1 193,-2 184,-6 176,-9 168,-12 159,-16 151,-20 143,-23 135,-28" stroke="rgb(173,173,173)" stroke-width="1.9"/><polyline points="397,146 388,148 380,150 371,152 362,154 353,156 344,157 335,157 326,157 317,158 308,158 299,159 290,160 281,161 273,163 264,164 255,166 246,167 237,169 228,170 219,171 210,172 201,173 192,174 184,176 175,177 166,178 157,180 148,181 139,182 130,183 121,184 112,185 103,185 94,184 85,183 76,181 68,179 59,177 50,175 42,172 33,169 25,166 17,162 9,158 1,153 -6,147 -13,141 -19,135 -25,128 -30,121" stroke="rgb(173,173,173)" stroke-width="2.2"/><polyline points="-15,247 -7,243 1,239 9,236 18,233 26,230 35,228 44,227 53,226 62,225 71,225 80,225 89,225 98,225 107,224 116,223 125,221 134,220 142,218 151,217 160,215 169,214 178,213 187,212 196,212 205,211 214,211 223,212 232,213 241,216 249,218 258,221 266,224 274,228 283,232 291,236 299,240 306,245 314,249 321,254 329,259 337,263 346,266 354,269 363,272 371,274 380,276 389,279 397,281 406,285 414,288" stroke="rgb(174,174,174)" stroke-width="1.5"/><polyline points="327,-15 319,-11 311,-8 303,-4 294,-1 286,3 277,6 269,8 260,10 251,12 242,13 233,15 225,16 216,17 207,17 198,17 189,16 180,15 171,14 162,11 154,9 145,5 137,1 129,-3 122,-8 115,-14 108,-20 101,-26" stroke="rgb(174,174,174)" stroke-width="1.9"/><polyline points="397,226 393,218 390,210 386,202 383,193 379,185 376,177 373,168 369,160 366,152 361,144 356,137 350,130 344,123 338,116 331,111 324,105 316,101 308,96 301,91 293,86 286,81 279,76 272,70 265,64 259,58 253,51 248,44 242,36 236,29 231,23 224,16 218,10 211,4 204,-2 197,-7 189,-12 182,-16 173,-20 165,-23 156,-25" stroke="rgb(174,174,174)" stroke-width="2.8"/><polyline points="397,249 389,253 381,257 372,260 364,262 355,265 347,268 338,271 330,275 322,278 313,281 305,285 297,289 289,293 281,297 273,302 266,307 258,312 251,317" stroke="rgb(174,174,174)" stroke-width="1.5"/><polyline points="-15,170 -7,166 2,163 10,160 19,157 27,155 36,152 45,150 53,148 62,146 71,143 80,141 88,139 97,137 106,134 114,132 123,129 131,126 139,122 147,118 155,113 162,107 169,101 175,95 181,88 186,81 191,73 196,65 200,57 204,50 209,42 213,34 217,26 220,17 224,9 227,1 231,-8 235,-16 239,-23 244,-31" stroke="rgb(175,175,175)" stroke-width="1.5"/><polyline points="-15,179 -12,187 -8,196 -6,204 -3,213 -2,222 -2,231 -1,240 -2,249 -3,258 -5,267 -7,275 -9,284 -12,293 -14,301 -16,310 -18,319" stroke="rgb(175,175,175)" stroke-width="1.9"/><polyline points="-15,64 -11,72 -7,80 -4,88 -1,97 3,105 7,113 11,121 16,129 21,136 26,143 32,150 39,156 46,161 53,167 61,172 68,176 76,181 85,184 93,188 101,192 109,196 117,200 125,204 133,209 141,213 149,217 157,220 165,224 174,227 182,230 191,233 200,235 208,236 217,237 226,236 235,236 244,234 253,233 262,230 270,227 279,224 287,220 295,216 302,211 309,205 316,199 322,193 327,186 333,178 337,171 342,163 347,155 353,148 358,141 364,134 370,127 376,121 382,114 389,108 395,102 402,96 409,91 417,86" stroke="rgb(175,175,175)" stroke-width="2.8"/><polyline points="160,302 154,296 148,289 141,283 134,277 127,272 120,267 112,263 103,259 95,256 86,254 77,253 68,252 59,251 50,252 41,253 33,255 24,257 15,259 7,262 -2,264 -11,265 -20,267 -29,269" stroke="rgb(175,175,175)" stroke-width="1.5"/><polyline points="175,302 169,295 163,288 158,281 152,274 146,267 140,261 134,254 128,247 122,241 115,235 108,229 101,223 94,217 87,212 80,206 73,201 66,195 59,190 51,185 44,179 38,173 31,167 24,161 17,155 10,150 3,144 -4,139 -11,133 -19,128 -26,124" stroke="rgb(175,175,175)" stroke-width="1.9"/><polyline points="182,-15 184,-6 186,3 188,11 190,20 192,29 194,38 195,47 196,56 197,65 198,73 199,82 200,91 202,100 203,109 206,118 209,126 212,134 217,142 221,150 226,158 230,166 235,173 240,181 245,188 251,195 256,203 261,210 267,217 273,224 278,231 283,238 289,246 294,253 298,261 303,268 308,276 313,283 318,291 323,299 327,306 331,314 335,323" stroke="rgb(175,175,175)" stroke-width="1.9"/><polyline points="397,36 388,36 379,35 370,35 361,34 352,34 343,33 334,33 325,34 316,34 307,35 298,35 289,35 280,35 271,34 262,34 253,33 244,32 236,30 227,27 218,25 210,22 201,19 193,16 184,13 176,10 167,7 159,3 151,-0 143,-4 135,-9 127,-13 119,-17 111,-21 102,-24 94,-28" stroke="rgb(175,175,175)" stroke-width="1.9"/><polyline points="-15,0 -9,7 -3,14 3,21 8,28 13,35 18,43 23,50 28,58 32,66 36,74 39,83 41,91 43,100 45,109 46,118 47,127 48,136 50,145 51,153 53,162 55,171 57,180 58,189 60,197 62,206 65,215 68,223 72,231 76,239 80,247 85,255 89,263 94,271 99,278 103,286 108,294 112,302 116,310 120,318" stroke="rgb(176,176,176)" stroke-width="3.2"/><polyline points="12,-15 9,-6 7,2 5,11 4,20 2,29 1,38 -1,47 -4,55 -7,64 -11,72 -15,80 -20,87 -25,95 -30,102" stroke="rgb(176,176,176)" stroke-width="1.9"/><polyline points="-9,-15 -16,-9 -23,-4 -30,3 -36,9" stroke="rgb(177,177,177)" stroke-width="2.2"/><polyline points="222,302 218,294 214,286 210,277 206,269 202,261 198,254 193,246 189,238 184,230 179,223 173,216 167,210 160,204 153,198 146,193 138,187 131,183 123,178 116,173 109,167 102,162 95,156 89,149 83,142 77,135 71,128 65,122 59,115 54,108 48,101 42,95 35,88 29,82 23,75 17,68 11,62 5,55 -1,48 -6,41 -11,33 -16,26 -20,18 -24,10 -27,1" stroke="rgb(177,177,177)" stroke-width="2.2"/><polyline points="273,302 278,294 283,287 287,279 292,271 297,264 302,256 307,249 312,242 317,234 323,227 328,220 333,212 339,205 344,198 350,191 356,184 362,178 369,172 376,167 384,162 391,157 399,152 406,147 414,142" stroke="rgb(177,177,177)" stroke-width="2.8"/><polyline points="290,302 286,294 282,286 278,278 274,270 271,261 269,253 268,244 266,235 265,226 265,217 265,208 265,199 265,190 265,181 266,172 267,163 267,154 267,145 267,136 266,127 265,118 263,109 261,101 258,92 254,84 251,75 248,67 245,58 243,50 242,41 241,32 241,23 241,14 242,5 242,-4 243,-13 244,-22 244,-31" stroke="rgb(177,177,177)" stroke-width="2.5"/><polyline points="397,110 388,112 379,114 371,116 362,118 353,120 344,122 336,124 327,126 318,127 309,128 300,130 291,131 282,133 273,134 265,136 256,137 247,139 238,140 229,141 220,142 211,143 202,143 193,143 184,143 175,142 166,141 157,139 148,139 139,138 130,138 121,139 112,140 103,141 95,142 86,145 77,148 69,151 61,156 54,161 47,166 40,172 34,179 28,186 24,194 19,201 15,209 11,217 8,226 5,235 3,243 1,252 -1,261 -2,270 -4,279 -5,288 -6,296 -8,305 -9,314 -11,323" stroke="rgb(177,177,177)" stroke-width="2.8"/><polyline points="397,56 388,58 379,59 370,60 361,61 352,63 344,64 335,67 326,70 318,73 310,78 303,83 296,88 289,94 283,101 277,108 272,115 266,122 261,130 257,137 252,145 248,153 243,161 238,168 232,175 227,182 222,190 216,197 210,203 204,210 197,216 190,222 183,227 176,232 168,237 160,240 151,244 143,247 134,249 125,251 116,252 107,252 98,253 89,253 80,253 71,253 62,253 53,253 44,253 35,254 26,254 17,254 8,254 -1,254 -10,254 -19,253 -28,252" stroke="rgb(177,177,177)" stroke-width="2.2"/><polyline points="292,302 285,296 279,290 273,283 268,276 263,268 259,260 256,252 253,243 251,234 250,225 249,216 249,207 250,198 252,189 254,181 256,172 260,164 264,156 268,148 272,140 277,132 282,125 287,117 293,110 298,103 304,97 311,90 317,84 323,77 330,72 337,66 344,60 351,55 359,49 366,44 373,39 380,33 387,27 394,21 400,15 407,9 414,3" stroke="rgb(178,178,178)" stroke-width="2.2"/><polyline points="33,-15 41,-10 49,-6 56,-1 64,4 71,10 78,15 85,21 93,26 100,31 108,35 115,40 124,44 132,47 141,50 149,52 158,54 167,56 176,58 185,58 194,59 203,58 212,57 220,56 229,54 238,51 246,48 255,45 263,42 271,38 279,33 286,28 293,22 300,16 306,9 311,2 316,-5 321,-13 325,-21 329,-29" stroke="rgb(178,178,178)" stroke-width="2.5"/><polyline points="397,248 390,254 384,261 377,267 371,273 364,280 358,285 351,291 344,297 337,303 331,309 325,316" stroke="rgb(178,178,178)" stroke-width="2.5"/><polyline points="397,252 391,245 385,239 379,232 372,226 366,220 359,214 353,207 346,201 339,196 332,191 324,186 316,182 307,179 299,176 290,174 281,173 272,173 263,173 254,173 245,175 236,176 227,178 219,180 210,183 202,186 193,190 185,193 177,197 169,200 160,203 151,206 143,208 134,209 125,209 116,209 107,208 98,207 89,205 80,203 71,201 63,199 54,198 45,196 36,195 27,194 18,193 9,192 0,191 -9,191 -18,191 -27,192" stroke="rgb(178,178,178)" stroke-width="2.2"/><polyline points="397,28 392,21 386,14 380,7 374,0 368,-6 362,-13 356,-19 349,-25" stroke="rgb(178,178,178)" stroke-width="1.9"/><polyline points="-15,36 -6,34 2,32 11,30 20,28 29,26 38,24 46,21 55,18 63,16 72,13 80,10 89,7 97,4 106,1 114,-2 122,-6 130,-10 138,-14 146,-18 154,-23 162,-27" stroke="rgb(179,179,179)" stroke-width="2.2"/><polyline points="170,-15 176,-9 183,-2 189,5 195,11 200,18 206,26 211,33 216,40 221,48 226,55 230,63 234,71 238,79 242,87 245,96 248,104 250,113 251,122 252,131 252,140 251,149 250,158 248,167 247,176 245,185 244,194 243,202 242,211 241,220 240,229 239,238 238,247 237,256 236,265 236,274 235,283 235,292 235,301 236,310 237,319" stroke="rgb(179,179,179)" stroke-width="3.2"/><polyline points="234,-15 241,-11 249,-6 257,-1 264,4 271,9 278,15 285,21 291,28 296,35 302,42 308,49 313,56 318,64 323,71 327,79 330,88 333,96 337,105 340,113 343,121 346,130 350,138 354,146 358,154 363,162 367,170 372,177 378,184 384,191 390,197 397,203 404,208 412,214" stroke="rgb(179,179,179)" stroke-width="1.5"/><polyline points="397,223 390,218 382,213 374,208 367,203 359,199 351,194 343,190 336,185 328,181 320,177 312,172 305,167 298,161 291,155 284,150 277,143 271,137 264,131 257,125 251,119 244,113 237,107 230,102 223,96 216,91 208,86 201,81 193,76 185,72 178,67 170,63 162,59 153,55 145,52 136,50 127,48 118,47 109,47 100,48 91,48 83,50 74,52 65,55 57,58 48,62 40,65 32,69 24,72 16,77 8,81 0,86 -8,90 -15,95 -22,101 -29,107" stroke="rgb(179,179,179)" stroke-width="3.2"/><polyline points="-15,100 -6,101 3,103 11,106 20,109 28,113 35,118 43,123 49,129 56,135 62,142 67,150 72,157 76,165 80,173 83,182 86,190 89,199 93,207 96,215 100,223 103,232 106,240 110,248 114,257 118,265 122,273 126,281 129,289 131,298 132,307 133,316" stroke="rgb(180,180,180)" stroke-width="2.8"/><polyline points="-15,98 -8,104 -2,110 4,117 10,124 15,131 20,138 25,146 30,154 34,162 38,170 41,178 45,186 49,194 53,202 58,210 62,218 66,226 69,235 72,243 74,252 75,261 77,270 78,279 80,287 82,296 84,305 87,314 89,322" stroke="rgb(180,180,180)" stroke-width="2.8"/><polyline points="295,-15 294,-6 292,3 291,12 290,20 289,29 288,38 288,47 289,56 289,65 291,74 294,83 296,91 299,100 302,109 305,117 309,125 314,133 319,140 324,148 329,155 334,163 338,170 343,178 348,186 352,194 356,202 361,209 366,217 371,224 376,232 382,239 388,245 394,252 400,259 406,265 413,271" stroke="rgb(180,180,180)" stroke-width="1.9"/><polyline points="397,254 393,262 389,270 385,278 381,286 376,294 371,301 366,308 360,315" stroke="rgb(180,180,180)" stroke-width="1.5"/><polyline points="-15,259 -11,251 -8,243 -4,235 -1,226 2,218 6,210 10,202 15,194 19,186 24,179 29,171 34,164 40,157 46,150 53,144 60,138 67,133 74,128 82,124 90,119 98,116 107,112 115,109 123,105 132,102 140,99 148,95 156,91 164,87 172,82 179,77 187,72 193,66 200,59 205,53 211,46 216,38 221,31 226,23 230,15 234,7 237,-1 240,-10 243,-19 246,-27" stroke="rgb(181,181,181)" stroke-width="2.2"/><polyline points="208,302 216,298 224,294 232,290 241,287 250,284 258,283 267,282 276,282 285,282 294,283 303,284 312,286 321,288 329,291 338,292 347,294 356,295 365,296 374,296 383,295 392,293 401,292 409,289 418,286" stroke="rgb(181,181,181)" stroke-width="1.5"/><polyline points="238,-15 231,-9 224,-3 217,3 211,9 204,15 197,21 191,27 184,32 176,38 169,43 161,48 154,52 146,56 137,60 129,64 121,67 112,70 104,73 95,75 86,77 77,79 68,80 59,81 51,81 42,82 33,83 24,84 15,86 6,88 -3,90 -11,93 -19,97 -27,102" stroke="rgb(181,181,181)" stroke-width="2.5"/><polyline points="-15,288 -12,297 -9,305 -6,314 -4,323" stroke="rgb(182,182,182)" stroke-width="1.9"/><polyline points="-15,50 -8,44 -1,38 6,33 13,27 21,22 28,17 36,13 45,10 53,8 62,6 71,4 80,3 89,2 98,1 107,1 116,0 125,0 134,-0 143,-0 152,-1 161,-2 170,-4 178,-6 187,-9 195,-13 203,-17 211,-21 219,-25 227,-29" stroke="rgb(182,182,182)" stroke-width="3.2"/><polyline points="124,-15 116,-11 108,-7 100,-3 92,1 84,5 76,10 68,14 61,19 53,24 45,28 38,33 30,38 22,43 15,47 7,51 -2,54 -10,57 -19,60 -28,62" stroke="rgb(182,182,182)" stroke-width="1.9"/><polyline points="397,174 390,169 383,163 376,158 369,151 363,145 357,138 352,131 346,124 341,117 336,109 331,102 326,94 322,86 317,79 312,71 306,64 300,57 294,51 288,45 281,39 274,33 267,27 260,22 253,16 246,11 239,5 232,-1 225,-7 218,-13 211,-19 204,-24 197,-30" stroke="rgb(182,182,182)" stroke-width="3.2"/><polyline points="397,20 393,29 390,37 387,46 384,54 380,62 376,70 371,78 366,85 360,92 355,99 349,106 343,112 336,119 331,126 325,133 320,140 315,148 310,155 305,163 300,171 295,178 291,186 286,194 282,202 279,210 276,218 273,227 271,236 270,245 268,254 267,262 265,271 264,280 263,289 262,298 261,307 259,316" stroke="rgb(182,182,182)" stroke-width="1.5"/><polyline points="397,40 388,38 379,36 371,35 362,33 353,32 344,32 335,32 326,33 317,34 308,36 300,39 291,42 283,46 275,50 267,55 260,60 252,65 245,70 238,75 230,80 223,85 215,89 206,92 198,95 189,98 180,100 172,103 163,105 155,108 146,110 137,112 128,114 119,115 110,116 101,116 92,116 83,115 75,113 66,110 58,107 50,103 42,99 34,93 27,88 21,81 15,75 9,68 4,60 -0,52 -5,45 -8,36 -12,28 -14,19 -17,11 -20,2 -23,-6 -26,-15" stroke="rgb(182,182,182)" stroke-width="1.5"/><polyline points="397,86 389,81 382,76 375,71 367,66 360,61 352,56 344,52 337,47 328,43 320,40 312,37 303,35 294,34 285,33 276,33 267,34 258,36 249,37 240,39 232,41 223,42 214,43 205,43 196,43 187,42 178,41 169,40 160,38 151,37 142,36 133,35 125,33 116,31 107,29 98,27 90,24 81,22 72,19 64,16 55,13 47,11 38,8 29,6 21,4 12,3 3,2 -6,2 -15,2 -24,3 -33,5" stroke="rgb(182,182,182)" stroke-width="2.5"/><polyline points="97,302 100,294 104,285 107,277 110,268 113,260 115,251 118,242 120,234 122,225 124,216 127,208 131,199 134,191 139,183 143,175 148,168 153,160 158,153 163,146 169,139 174,132 180,124 185,117 190,110 195,102 200,94 204,86 208,78 211,70 213,61 215,52 216,43 217,34 218,26 218,17 217,8 216,-1 214,-10 212,-19 210,-28" stroke="rgb(182,182,182)" stroke-width="2.5"/><polyline points="11,302 16,295 22,288 27,281 32,273 37,266 42,258 46,250 50,242 54,234 57,225 60,217 63,208 65,200 67,191 67,182 67,173 67,164 66,155 64,146 62,137 59,129 56,120 52,112 47,104 42,97 37,90 31,83 24,77 17,71 10,66 2,62 -6,58 -15,55 -24,53 -32,51" stroke="rgb(183,183,183)" stroke-width="2.2"/><polyline points="198,302 191,296 185,289 179,283 173,276 168,269 163,261 159,253 155,245 152,237 149,228 147,219 146,210 145,201 145,192 144,183 144,174 143,165 143,157 142,148 142,139 142,130 141,121 141,112 140,103 139,94 139,85 139,76 139,67 140,58 142,49 144,40 147,31 150,23 153,15 157,7 161,-1 166,-9 171,-17 176,-24 182,-31" stroke="rgb(183,183,183)" stroke-width="1.9"/><polyline points="397,119 390,125 384,132 377,138 371,144 364,149 356,155 349,160 342,166 336,172 330,179 324,186 319,193 314,201 311,209 307,218 305,226 303,235 302,244 301,253 301,262 301,271 302,280 302,289 304,298 305,307 308,315" stroke="rgb(183,183,183)" stroke-width="2.2"/><polyline points="-15,286 -6,286 3,286 12,286 21,285 30,284 39,283 48,281 56,279 65,276 73,272 81,268 89,265 98,261 106,258 115,255 123,253 132,251 141,250 150,249 159,250 168,250 177,252 186,254 194,256 203,258 212,260 221,262 229,264 238,267 247,270 255,273 263,276 272,280 280,283 288,286 297,289 306,290 315,292 324,292 333,293 342,293 351,293 360,292 369,291 377,289 386,286 394,282 402,278 410,274 418,269" stroke="rgb(184,184,184)" stroke-width="1.9"/><polyline points="280,-15 279,-6 277,3 275,11 273,20 270,29 267,37 263,45 259,54 255,62 251,70 248,78 244,86 240,94 238,103 236,112 234,121 234,130 234,139 234,148 235,156 237,165 240,174 243,182 246,191 250,199 255,206 260,214 266,221 272,228 278,234 285,240 292,246 299,251 307,255 315,260 323,263 331,266 340,268 349,270 358,272 367,273 376,274 385,274 394,273 403,272 412,271" stroke="rgb(184,184,184)" stroke-width="2.5"/><polyline points="397,273 390,279 383,284 376,290 369,296 362,301 355,307 348,313 341,318" stroke="rgb(184,184,184)" stroke-width="2.8"/><polyline points="-15,29 -8,23 -2,17 5,11 11,4 16,-3 22,-10 27,-18 31,-25" stroke="rgb(185,185,185)" stroke-width="2.5"/><polyline points="141,302 140,293 141,284 141,275 142,266 143,257 144,248 144,239 144,230 145,221 145,212 146,203 148,194 149,186 151,177 152,168 153,159 153,150 152,141 151,132 150,123 148,114 145,106 142,97 138,89 134,81 130,73 125,65 121,58 116,50 110,43 104,36 98,30 92,23 85,17 78,12 71,6 64,1 56,-3 48,-7 39,-10 30,-13 22,-15 13,-18 5,-20 -4,-23 -12,-26" stroke="rgb(185,185,185)" stroke-width="2.2"/><polyline points="276,302 281,295 286,287 291,280 296,272 299,264 303,256 305,247 307,238 309,229 310,220 310,211 311,202 310,193 309,184 307,176 306,167 305,158 303,149 302,140 301,131 300,122 299,113 300,104 301,95 302,86 304,77 305,68 306,60 307,51 308,42 307,33 307,24 305,15 304,6 303,-3 303,-12 303,-21 303,-30" stroke="rgb(185,185,185)" stroke-width="1.9"/><polyline points="39,302 47,299 56,297 65,295 74,294 83,294 92,294 100,295 109,297 118,300 126,303 134,307 142,311 150,316" stroke="rgb(185,185,185)" stroke-width="2.8"/><polyline points="397,193 388,192 379,192 370,191 361,192 352,193 343,194 334,196 326,199 317,202 309,205 301,209 293,213 285,217 277,221 268,224 260,228 252,232 244,237 237,241 229,246 222,252 215,258 209,265 204,272 199,279 193,286 188,294 183,301 177,308 172,315" stroke="rgb(185,185,185)" stroke-width="2.2"/><polyline points="253,302 247,295 242,288 236,281 231,273 226,266 222,258 217,250 213,242 209,234 205,226 201,218 198,209 195,201 192,192 190,184 187,175 185,166 183,158 181,149 179,140 178,131 177,122 175,113 174,104 173,96 171,87 169,78 167,69 164,61 161,52 158,44 155,35 151,27 147,19 143,11 139,3 135,-5 132,-14 129,-22 126,-31" stroke="rgb(186,186,186)" stroke-width="3.2"/><polyline points="397,-5 392,3 387,11 383,18 378,26 374,34 370,42 366,50 362,58 358,66 354,74 351,83 347,91 344,99 341,108 338,116 336,125 334,134 332,143 329,151 327,160 325,169 324,178 322,186 319,195 316,203 312,212 307,219 302,227 297,234 292,242 286,249 281,256 275,262 269,269 262,275 255,281 248,287 241,292 233,297 226,301 218,306 210,311 203,316" stroke="rgb(186,186,186)" stroke-width="3.2"/></g>
</g>
<text x="346.2" y="20.8" font-family="DejaVu Sans,sans-serif" font-size="13.8" fill="#fff" stroke="#fff" stroke-width="0.45" text-anchor="middle" textLength="35.5" lengthAdjust="spacingAndGlyphs">5um</text>
<rect x="315.5" y="22.6" width="64" height="3" fill="#fff"/>
<circle cx="322" cy="92.5" r="8.5" fill="none" stroke="#e00" stroke-width="1.6"/>
<line x1="330.4" y1="92.6" x2="390" y2="92.6" stroke="#e00" stroke-width="1.7"/>
<path d="M388.3 87.4 L399.3 92.6 L388.3 97.8 Z" fill="#e00"/>
<g clip-path="url(#cr)">
<rect x="392" y="-10" width="405" height="306" fill="#8f8f8f" filter="url(#grain)"/>
<path d="M553 -8 L761 -8 L758 19 L765 43 L771 78 L769 116 L775 155 L777 186 L781 199 L758 199 L735 206 L728 216 L692 214 L688 213 L668 190 L653 163 L637 132 L618 101 L599 66 L579 31 L560 12Z" fill="url(#mdg)" fill-opacity="0.92" filter="url(#bl2)"/>
<path d="M665 8 L700 -8 L761 -8 L758 19 L765 43 L771 78 L769 116 L775 155 L777 186 L769 194 L746 163 L730 147 L719 120 L707 97 L688 78 L665 74 L649 50 L653 35Z" fill="#2e2e2e" fill-opacity="0.92" filter="url(#bl2)"/>
<path d="M762 -8 L790 -8 L790 200 L778 200 L775 150 L770 100 L766 45 Z" fill="#000" opacity="0.18" filter="url(#bl2)"/>
<rect x="783.5" y="0" width="1.5" height="285" fill="#fff" opacity="0.12"/>
<path d="M461 46 L458 54 L453 76 L446 99 L436 120 L434 132 L440 145 L447 155 L451 186 L469 206 L487 227 L502 255 L510 260 L530 275 L540 296 L583 296 L583 272 L563 242 L558 224 L543 199 L525 178 L522 165 L512 150 L507 132 L499 107 L484 84 L471 66 L464 46Z" fill="#2e2e2e" fill-opacity="0.92" filter="url(#bl2)"/>
<path d="M477 -2 Q483 14 478 28 T463 48" fill="none" stroke="#5c5c5c" stroke-width="6" filter="url(#bl2)"/>
</g>
<rect x="0.5" y="142" width="197" height="144.5" fill="#fff"/>
<rect x="54.7" y="256.8" width="24.3" height="10.7" fill="url(#hatch)" stroke="#505050" stroke-width="0.65" stroke-dasharray="2 1"/>
<rect x="79.0" y="208.6" width="24.3" height="58.9" fill="url(#hatch)" stroke="#505050" stroke-width="0.65" stroke-dasharray="2 1"/>
<rect x="103.3" y="160.5" width="24.3" height="107.0" fill="url(#hatch)" stroke="#505050" stroke-width="0.65" stroke-dasharray="2 1"/>
<rect x="127.6" y="208.6" width="24.3" height="58.9" fill="url(#hatch)" stroke="#505050" stroke-width="0.65" stroke-dasharray="2 1"/>
<rect x="151.9" y="232.7" width="24.3" height="34.8" fill="url(#hatch)" stroke="#505050" stroke-width="0.65" stroke-dasharray="2 1"/>
<polyline points="54.7,256.2 55.9,256.1 57.1,255.9 58.3,255.7 59.5,255.4 60.8,255.1 62.0,254.8 63.2,254.4 64.4,254.0 65.6,253.5 66.8,252.9 68.0,252.3 69.3,251.5 70.5,250.7 71.7,249.7 72.9,248.6 74.1,247.4 75.3,246.1 76.6,244.6 77.8,243.0 79.0,241.2 80.2,239.2 81.4,237.1 82.6,234.8 83.9,232.3 85.1,229.7 86.3,226.8 87.5,223.9 88.7,220.7 89.9,217.4 91.1,214.0 92.4,210.5 93.6,206.9 94.8,203.2 96.0,199.5 97.2,195.8 98.4,192.1 99.7,188.4 100.9,184.9 102.1,181.4 103.3,178.1 104.5,175.0 105.7,172.1 106.9,169.5 108.2,167.1 109.4,165.0 110.6,163.3 111.8,162.0 113.0,161.0 114.2,160.4 115.5,160.1 116.7,160.3 117.9,160.7 119.1,161.5 120.3,162.5 121.5,163.9 122.8,165.5 124.0,167.4 125.2,169.6 126.4,172.0 127.6,174.6 128.8,177.3 130.0,180.2 131.3,183.3 132.5,186.4 133.7,189.7 134.9,193.0 136.1,196.3 137.3,199.6 138.6,202.9 139.8,206.1 141.0,209.3 142.2,212.5 143.4,215.5 144.6,218.4 145.9,221.3 147.1,223.9 148.3,226.5 149.5,228.9 150.7,231.2 151.9,233.4 153.1,235.4 154.4,237.2 155.6,238.9 156.8,240.5 158.0,242.0 159.2,243.3 160.4,244.5 161.7,245.6 162.9,246.6 164.1,247.4 165.3,248.2 166.5,248.9 167.7,249.5 169.0,250.0 170.2,250.5 171.4,250.9 172.6,251.3 173.8,251.6 175.0,251.8 176.2,252.1" fill="none" stroke="#f27676" stroke-width="0.85"/>
<rect x="18.2" y="147" width="170.1" height="120.5" fill="none" stroke="#444" stroke-width="1.1"/>
<line x1="18.2" y1="267.5" x2="20.4" y2="267.5" stroke="#444" stroke-width="0.8"/>
<text x="15.3" y="270.1" class="ser" font-size="8" fill="#333" text-anchor="end">0</text>
<line x1="18.2" y1="254.1" x2="20.4" y2="254.1" stroke="#444" stroke-width="0.8"/>
<text x="15.3" y="256.7" class="ser" font-size="8" fill="#333" text-anchor="end">5</text>
<line x1="18.2" y1="240.7" x2="20.4" y2="240.7" stroke="#444" stroke-width="0.8"/>
<text x="15.3" y="243.3" class="ser" font-size="8" fill="#333" text-anchor="end">10</text>
<line x1="18.2" y1="227.4" x2="20.4" y2="227.4" stroke="#444" stroke-width="0.8"/>
<text x="15.3" y="230.0" class="ser" font-size="8" fill="#333" text-anchor="end">15</text>
<line x1="18.2" y1="214.0" x2="20.4" y2="214.0" stroke="#444" stroke-width="0.8"/>
<text x="15.3" y="216.6" class="ser" font-size="8" fill="#333" text-anchor="end">20</text>
<line x1="18.2" y1="200.6" x2="20.4" y2="200.6" stroke="#444" stroke-width="0.8"/>
<text x="15.3" y="203.2" class="ser" font-size="8" fill="#333" text-anchor="end">25</text>
<line x1="18.2" y1="187.2" x2="20.4" y2="187.2" stroke="#444" stroke-width="0.8"/>
<text x="15.3" y="189.8" class="ser" font-size="8" fill="#333" text-anchor="end">30</text>
<line x1="18.2" y1="173.8" x2="20.4" y2="173.8" stroke="#444" stroke-width="0.8"/>
<text x="15.3" y="176.4" class="ser" font-size="8" fill="#333" text-anchor="end">35</text>
<line x1="18.2" y1="160.5" x2="20.4" y2="160.5" stroke="#444" stroke-width="0.8"/>
<text x="15.3" y="163.1" class="ser" font-size="8" fill="#333" text-anchor="end">40</text>
<line x1="18.2" y1="147.1" x2="20.4" y2="147.1" stroke="#444" stroke-width="0.8"/>
<text x="15.3" y="149.7" class="ser" font-size="8" fill="#333" text-anchor="end">45</text>
<line x1="18.2" y1="260.8" x2="19.6" y2="260.8" stroke="#444" stroke-width="0.8"/>
<line x1="18.2" y1="247.4" x2="19.6" y2="247.4" stroke="#444" stroke-width="0.8"/>
<line x1="18.2" y1="234.1" x2="19.6" y2="234.1" stroke="#444" stroke-width="0.8"/>
<line x1="18.2" y1="220.7" x2="19.6" y2="220.7" stroke="#444" stroke-width="0.8"/>
<line x1="18.2" y1="207.3" x2="19.6" y2="207.3" stroke="#444" stroke-width="0.8"/>
<line x1="18.2" y1="193.9" x2="19.6" y2="193.9" stroke="#444" stroke-width="0.8"/>
<line x1="18.2" y1="180.5" x2="19.6" y2="180.5" stroke="#444" stroke-width="0.8"/>
<line x1="18.2" y1="167.1" x2="19.6" y2="167.1" stroke="#444" stroke-width="0.8"/>
<line x1="18.2" y1="153.8" x2="19.6" y2="153.8" stroke="#444" stroke-width="0.8"/>
<line x1="30.4" y1="267.5" x2="30.4" y2="266.1" stroke="#444" stroke-width="0.8"/>
<line x1="54.7" y1="267.5" x2="54.7" y2="266.1" stroke="#444" stroke-width="0.8"/>
<line x1="79.0" y1="267.5" x2="79.0" y2="266.1" stroke="#444" stroke-width="0.8"/>
<line x1="103.3" y1="267.5" x2="103.3" y2="266.1" stroke="#444" stroke-width="0.8"/>
<line x1="127.6" y1="267.5" x2="127.6" y2="266.1" stroke="#444" stroke-width="0.8"/>
<line x1="151.9" y1="267.5" x2="151.9" y2="266.1" stroke="#444" stroke-width="0.8"/>
<line x1="176.2" y1="267.5" x2="176.2" y2="266.1" stroke="#444" stroke-width="0.8"/>
<line x1="18.2" y1="267.5" x2="18.2" y2="265.3" stroke="#444" stroke-width="0.8"/>
<text x="18.2" y="276.2" class="ser" font-size="8" fill="#333" text-anchor="middle">0</text>
<line x1="42.5" y1="267.5" x2="42.5" y2="265.3" stroke="#444" stroke-width="0.8"/>
<text x="42.5" y="276.2" class="ser" font-size="8" fill="#333" text-anchor="middle">50</text>
<line x1="66.8" y1="267.5" x2="66.8" y2="265.3" stroke="#444" stroke-width="0.8"/>
<text x="66.8" y="276.2" class="ser" font-size="8" fill="#333" text-anchor="middle">100</text>
<line x1="91.1" y1="267.5" x2="91.1" y2="265.3" stroke="#444" stroke-width="0.8"/>
<text x="91.1" y="276.2" class="ser" font-size="8" fill="#333" text-anchor="middle">150</text>
<line x1="115.5" y1="267.5" x2="115.5" y2="265.3" stroke="#444" stroke-width="0.8"/>
<text x="115.5" y="276.2" class="ser" font-size="8" fill="#333" text-anchor="middle">200</text>
<line x1="139.8" y1="267.5" x2="139.8" y2="265.3" stroke="#444" stroke-width="0.8"/>
<text x="139.8" y="276.2" class="ser" font-size="8" fill="#333" text-anchor="middle">250</text>
<line x1="164.1" y1="267.5" x2="164.1" y2="265.3" stroke="#444" stroke-width="0.8"/>
<text x="164.1" y="276.2" class="ser" font-size="8" fill="#333" text-anchor="middle">300</text>
<line x1="188.4" y1="267.5" x2="188.4" y2="265.3" stroke="#444" stroke-width="0.8"/>
<text x="188.4" y="276.2" class="ser" font-size="8" fill="#333" text-anchor="middle">350</text>
<text x="123" y="284" class="ser" font-size="8.6" fill="#333" text-anchor="middle" textLength="60" lengthAdjust="spacingAndGlyphs">Fiber diameter (nm)</text>
<text x="146" y="155" class="ser" font-size="7.4" fill="#333" text-anchor="middle" textLength="69" lengthAdjust="spacingAndGlyphs" style="white-space:pre">Average  diameter=226nm</text>
<text transform="translate(6.5,212) rotate(-90)" class="ser" font-size="7.6" fill="#333" text-anchor="middle" textLength="43" lengthAdjust="spacingAndGlyphs">Frequency (%)</text>
<polyline points="48.0,544.3 94.3,542.6 140.6,539.9 186.9,537.9 233.3,534.4 279.6,528.7 325.9,522.1" fill="none" stroke="#333" stroke-width="0.9"/>
<path d="M94.3 539.6V545.6M91.7 539.6H96.9M91.7 545.6H96.9" stroke="#333" stroke-width="0.9" fill="none"/>
<path d="M140.6 536.9V542.9M138.0 536.9H143.2M138.0 542.9H143.2" stroke="#333" stroke-width="0.9" fill="none"/>
<path d="M186.9 534.9V540.9M184.3 534.9H189.5M184.3 540.9H189.5" stroke="#333" stroke-width="0.9" fill="none"/>
<path d="M233.3 530.4V538.4M230.7 530.4H235.9M230.7 538.4H235.9" stroke="#333" stroke-width="0.9" fill="none"/>
<path d="M279.6 523.2V534.2M277.0 523.2H282.2M277.0 534.2H282.2" stroke="#333" stroke-width="0.9" fill="none"/>
<path d="M325.9 516.5V527.7M323.3 516.5H328.5M323.3 527.7H328.5" stroke="#333" stroke-width="0.9" fill="none"/>
<rect x="45.1" y="541.4" width="5.8" height="5.8" fill="#000"/>
<rect x="91.4" y="539.7" width="5.8" height="5.8" fill="#000"/>
<rect x="137.7" y="537.0" width="5.8" height="5.8" fill="#000"/>
<rect x="184.0" y="535.0" width="5.8" height="5.8" fill="#000"/>
<rect x="230.4" y="531.5" width="5.8" height="5.8" fill="#000"/>
<rect x="276.7" y="525.8" width="5.8" height="5.8" fill="#000"/>
<rect x="323.0" y="519.2" width="5.8" height="5.8" fill="#000"/>
<polyline points="48.0,544.3 94.3,539.7 140.6,536.6 186.9,530.6 233.3,523.7 279.6,515.3 325.9,507.3" fill="none" stroke="#333" stroke-width="0.9"/>
<path d="M94.3 536.7V542.7M91.7 536.7H96.9M91.7 542.7H96.9" stroke="#333" stroke-width="0.9" fill="none"/>
<path d="M140.6 533.6V539.6M138.0 533.6H143.2M138.0 539.6H143.2" stroke="#333" stroke-width="0.9" fill="none"/>
<path d="M186.9 527.1V534.1M184.3 527.1H189.5M184.3 534.1H189.5" stroke="#333" stroke-width="0.9" fill="none"/>
<path d="M233.3 519.2V528.2M230.7 519.2H235.9M230.7 528.2H235.9" stroke="#333" stroke-width="0.9" fill="none"/>
<path d="M279.6 509.8V520.8M277.0 509.8H282.2M277.0 520.8H282.2" stroke="#333" stroke-width="0.9" fill="none"/>
<path d="M325.9 501.3V513.3M323.3 501.3H328.5M323.3 513.3H328.5" stroke="#333" stroke-width="0.9" fill="none"/>
<circle cx="48.0" cy="544.3" r="3.2" fill="#000"/>
<circle cx="94.3" cy="539.7" r="3.2" fill="#000"/>
<circle cx="140.6" cy="536.6" r="3.2" fill="#000"/>
<circle cx="186.9" cy="530.6" r="3.2" fill="#000"/>
<circle cx="233.3" cy="523.7" r="3.2" fill="#000"/>
<circle cx="279.6" cy="515.3" r="3.2" fill="#000"/>
<circle cx="325.9" cy="507.3" r="3.2" fill="#000"/>
<polyline points="48.0,544.3 94.3,503.5 140.6,477.8 186.9,447.6 233.3,408.1 279.6,370.4 325.9,327.0" fill="none" stroke="#ff8080" stroke-width="0.9"/>
<path d="M94.3 497.5V509.5M91.7 497.5H96.9M91.7 509.5H96.9" stroke="#ff8080" stroke-width="0.9" fill="none"/>
<path d="M140.6 471.8V483.8M138.0 471.8H143.2M138.0 483.8H143.2" stroke="#ff8080" stroke-width="0.9" fill="none"/>
<path d="M186.9 441.6V453.6M184.3 441.6H189.5M184.3 453.6H189.5" stroke="#ff8080" stroke-width="0.9" fill="none"/>
<path d="M233.3 401.6V414.6M230.7 401.6H235.9M230.7 414.6H235.9" stroke="#ff8080" stroke-width="0.9" fill="none"/>
<path d="M279.6 363.9V376.9M277.0 363.9H282.2M277.0 376.9H282.2" stroke="#ff8080" stroke-width="0.9" fill="none"/>
<path d="M325.9 319.2V334.8M323.3 319.2H328.5M323.3 334.8H328.5" stroke="#ff8080" stroke-width="0.9" fill="none"/>
<circle cx="48.0" cy="544.3" r="3.2" fill="#f00"/>
<circle cx="94.3" cy="503.5" r="3.2" fill="#f00"/>
<circle cx="140.6" cy="477.8" r="3.2" fill="#f00"/>
<circle cx="186.9" cy="447.6" r="3.2" fill="#f00"/>
<circle cx="233.3" cy="408.1" r="3.2" fill="#f00"/>
<circle cx="279.6" cy="370.4" r="3.2" fill="#f00"/>
<circle cx="325.9" cy="327.0" r="3.2" fill="#f00"/>
<polyline points="48.0,544.3 94.3,525.7 140.6,510.5 186.9,492.4 233.3,456.7 279.6,434.7 325.9,395.5" fill="none" stroke="#ff8080" stroke-width="0.9"/>
<path d="M94.3 521.7V529.7M91.7 521.7H96.9M91.7 529.7H96.9" stroke="#ff8080" stroke-width="0.9" fill="none"/>
<path d="M140.6 506.0V515.0M138.0 506.0H143.2M138.0 515.0H143.2" stroke="#ff8080" stroke-width="0.9" fill="none"/>
<path d="M186.9 486.9V497.9M184.3 486.9H189.5M184.3 497.9H189.5" stroke="#ff8080" stroke-width="0.9" fill="none"/>
<path d="M233.3 451.2V462.2M230.7 451.2H235.9M230.7 462.2H235.9" stroke="#ff8080" stroke-width="0.9" fill="none"/>
<path d="M279.6 428.7V440.7M277.0 428.7H282.2M277.0 440.7H282.2" stroke="#ff8080" stroke-width="0.9" fill="none"/>
<path d="M325.9 389.0V402.0M323.3 389.0H328.5M323.3 402.0H328.5" stroke="#ff8080" stroke-width="0.9" fill="none"/>
<rect x="45.1" y="541.4" width="5.8" height="5.8" fill="#f00"/>
<rect x="91.4" y="522.8" width="5.8" height="5.8" fill="#f00"/>
<rect x="137.7" y="507.6" width="5.8" height="5.8" fill="#f00"/>
<rect x="184.0" y="489.5" width="5.8" height="5.8" fill="#f00"/>
<rect x="230.4" y="453.8" width="5.8" height="5.8" fill="#f00"/>
<rect x="276.7" y="431.8" width="5.8" height="5.8" fill="#f00"/>
<rect x="323.0" y="392.6" width="5.8" height="5.8" fill="#f00"/>
<rect x="39.5" y="309" width="332.7" height="247.1" fill="none" stroke="#3c3c3c" stroke-width="1.3"/>
<line x1="39.5" y1="544.3" x2="44.5" y2="544.3" stroke="#3c3c3c" stroke-width="1.2"/>
<text x="33.4" y="548.6" class="san" font-size="12.3" fill="#111" text-anchor="end">0</text>
<line x1="39.5" y1="520.7" x2="42.5" y2="520.7" stroke="#3c3c3c" stroke-width="1.2"/>
<line x1="39.5" y1="497.1" x2="44.5" y2="497.1" stroke="#3c3c3c" stroke-width="1.2"/>
<text x="33.4" y="501.4" class="san" font-size="12.3" fill="#111" text-anchor="end">4</text>
<line x1="39.5" y1="473.6" x2="42.5" y2="473.6" stroke="#3c3c3c" stroke-width="1.2"/>
<line x1="39.5" y1="450.0" x2="44.5" y2="450.0" stroke="#3c3c3c" stroke-width="1.2"/>
<text x="33.4" y="454.3" class="san" font-size="12.3" fill="#111" text-anchor="end">8</text>
<line x1="39.5" y1="426.4" x2="42.5" y2="426.4" stroke="#3c3c3c" stroke-width="1.2"/>
<line x1="39.5" y1="402.8" x2="44.5" y2="402.8" stroke="#3c3c3c" stroke-width="1.2"/>
<text x="33.4" y="407.1" class="san" font-size="12.3" fill="#111" text-anchor="end">12</text>
<line x1="39.5" y1="379.2" x2="42.5" y2="379.2" stroke="#3c3c3c" stroke-width="1.2"/>
<line x1="39.5" y1="355.7" x2="44.5" y2="355.7" stroke="#3c3c3c" stroke-width="1.2"/>
<text x="33.4" y="360.0" class="san" font-size="12.3" fill="#111" text-anchor="end">16</text>
<line x1="39.5" y1="332.1" x2="42.5" y2="332.1" stroke="#3c3c3c" stroke-width="1.2"/>
<line x1="39.5" y1="308.5" x2="44.5" y2="308.5" stroke="#3c3c3c" stroke-width="1.2"/>
<text x="33.4" y="312.8" class="san" font-size="12.3" fill="#111" text-anchor="end">20</text>
<line x1="48.0" y1="556.1" x2="48.0" y2="551.1" stroke="#3c3c3c" stroke-width="1.2"/>
<text x="48.0" y="571.4" class="san" font-size="12.3" fill="#111" text-anchor="middle">0</text>
<line x1="71.2" y1="556.1" x2="71.2" y2="553.1" stroke="#3c3c3c" stroke-width="1.2"/>
<line x1="94.3" y1="556.1" x2="94.3" y2="551.1" stroke="#3c3c3c" stroke-width="1.2"/>
<text x="94.3" y="571.4" class="san" font-size="12.3" fill="#111" text-anchor="middle">5</text>
<line x1="117.5" y1="556.1" x2="117.5" y2="553.1" stroke="#3c3c3c" stroke-width="1.2"/>
<line x1="140.6" y1="556.1" x2="140.6" y2="551.1" stroke="#3c3c3c" stroke-width="1.2"/>
<text x="140.6" y="571.4" class="san" font-size="12.3" fill="#111" text-anchor="middle">10</text>
<line x1="163.8" y1="556.1" x2="163.8" y2="553.1" stroke="#3c3c3c" stroke-width="1.2"/>
<line x1="186.9" y1="556.1" x2="186.9" y2="551.1" stroke="#3c3c3c" stroke-width="1.2"/>
<text x="186.9" y="571.4" class="san" font-size="12.3" fill="#111" text-anchor="middle">15</text>
<line x1="210.1" y1="556.1" x2="210.1" y2="553.1" stroke="#3c3c3c" stroke-width="1.2"/>
<line x1="233.3" y1="556.1" x2="233.3" y2="551.1" stroke="#3c3c3c" stroke-width="1.2"/>
<text x="233.3" y="571.4" class="san" font-size="12.3" fill="#111" text-anchor="middle">20</text>
<line x1="256.4" y1="556.1" x2="256.4" y2="553.1" stroke="#3c3c3c" stroke-width="1.2"/>
<line x1="279.6" y1="556.1" x2="279.6" y2="551.1" stroke="#3c3c3c" stroke-width="1.2"/>
<text x="279.6" y="571.4" class="san" font-size="12.3" fill="#111" text-anchor="middle">25</text>
<line x1="302.7" y1="556.1" x2="302.7" y2="553.1" stroke="#3c3c3c" stroke-width="1.2"/>
<line x1="325.9" y1="556.1" x2="325.9" y2="551.1" stroke="#3c3c3c" stroke-width="1.2"/>
<text x="325.9" y="571.4" class="san" font-size="12.3" fill="#111" text-anchor="middle">30</text>
<line x1="349.0" y1="556.1" x2="349.0" y2="553.1" stroke="#3c3c3c" stroke-width="1.2"/>
<line x1="372.2" y1="556.1" x2="372.2" y2="551.1" stroke="#3c3c3c" stroke-width="1.2"/>
<text x="372.2" y="571.4" class="san" font-size="12.3" fill="#111" text-anchor="middle">35</text>
<text x="204.6" y="587.6" class="san" font-size="12.8" fill="#111" text-anchor="middle" textLength="139.5" lengthAdjust="spacingAndGlyphs">Degradation time (day)</text>
<text transform="translate(14.3,434.5) rotate(-90)" class="san" font-size="12.8" fill="#111" text-anchor="middle" textLength="97" lengthAdjust="spacingAndGlyphs">Weight loss (%)</text>
<circle cx="57.3" cy="322.4" r="2.4" fill="#f00"/>
<text x="63" y="325.9" class="ser" font-size="11.3" fill="#111" textLength="242" lengthAdjust="spacingAndGlyphs">Soy protein modified BC nanofiber scaffold in Enzyme/PBS</text>
<rect x="54.9" y="336.8" width="4.8" height="4.8" fill="#f00"/>
<text x="63" y="342.1" class="ser" font-size="11.3" fill="#111" textLength="155" lengthAdjust="spacingAndGlyphs">BC nanofiber scaffold in Enzyme/PBS</text>
<circle cx="57.3" cy="352.7" r="2.4" fill="#000"/>
<text x="63" y="355.5" class="ser" font-size="11.3" fill="#111" textLength="205" lengthAdjust="spacingAndGlyphs">Soy protein modified BC nanofiber scaffold in PBS</text>
<rect x="54.9" y="364.20000000000005" width="4.8" height="4.8" fill="#000"/>
<text x="63" y="370.1" class="ser" font-size="11.3" fill="#111" textLength="119" lengthAdjust="spacingAndGlyphs">BC nanofiber scaffold in PBS</text>
<rect x="461.1" y="519" width="19.5" height="34.4" fill="#000"/>
<rect x="480.6" y="514.5" width="20.9" height="38.9" fill="#fe7f2b"/>
<path d="M470.9 519V512M465.9 512H475.9M491.1 514.5V507.8M486.1 507.8H496.1" stroke="#2a2a2a" stroke-width="1.15" fill="none"/>
<text x="480.5" y="567.5" class="ser" font-size="11.5" font-weight="bold" fill="#000" text-anchor="middle">2</text>
<rect x="513" y="492.7" width="19.6" height="60.7" fill="#000"/>
<rect x="532.6" y="484.7" width="20.2" height="68.7" fill="#fe7f2b"/>
<path d="M522.8 492.7V477.3M517.8 477.3H527.8M542.7 484.7V472.5M537.7 472.5H547.7" stroke="#2a2a2a" stroke-width="1.15" fill="none"/>
<path d="M522.8 473.8V445.3H542.7V470.0" stroke="#2a2a2a" stroke-width="1.15" fill="none"/>
<text x="533.0" y="447.8" class="ser" font-size="18" fill="#1c2a3c" stroke="#1c2a3c" stroke-width="0.35" text-anchor="middle">*</text>
<text x="532.1" y="567.5" class="ser" font-size="11.5" font-weight="bold" fill="#000" text-anchor="middle">4</text>
<rect x="565.9" y="454.9" width="19.5" height="98.5" fill="#000"/>
<rect x="585.4" y="441.8" width="20.5" height="111.6" fill="#fe7f2b"/>
<path d="M575.6 454.9V432.2M570.6 432.2H580.6M595.6 441.8V421.3M590.6 421.3H600.6" stroke="#2a2a2a" stroke-width="1.15" fill="none"/>
<path d="M575.6 428.7V400.5H595.6V418.8" stroke="#2a2a2a" stroke-width="1.15" fill="none"/>
<text x="585.9" y="403.2" class="ser" font-size="18" fill="#1c2a3c" stroke="#1c2a3c" stroke-width="0.35" text-anchor="middle">*</text>
<text x="585.1" y="567.5" class="ser" font-size="11.5" font-weight="bold" fill="#000" text-anchor="middle">6</text>
<rect x="618.8" y="454" width="19.8" height="99.4" fill="#000"/>
<rect x="638.6" y="436.4" width="20.2" height="117.0" fill="#fe7f2b"/>
<path d="M628.7 454V424M623.7 424H633.7M648.7 436.4V406.3M643.7 406.3H653.7" stroke="#2a2a2a" stroke-width="1.15" fill="none"/>
<path d="M628.7 420.5V392.5H648.7V403.8" stroke="#2a2a2a" stroke-width="1.15" fill="none"/>
<text x="639.0" y="394.3" class="ser" font-size="18" fill="#1c2a3c" stroke="#1c2a3c" stroke-width="0.35" text-anchor="middle">*</text>
<text x="638.0" y="567.5" class="ser" font-size="11.5" font-weight="bold" fill="#000" text-anchor="middle">8</text>
<rect x="673.6" y="450.5" width="19.8" height="102.9" fill="#000"/>
<rect x="693.4" y="434.9" width="20.2" height="118.5" fill="#fe7f2b"/>
<path d="M683.5 450.5V421.2M678.5 421.2H688.5M703.5 434.9V408.1M698.5 408.1H708.5" stroke="#2a2a2a" stroke-width="1.15" fill="none"/>
<path d="M683.5 417.7V387.2H703.5V405.6" stroke="#2a2a2a" stroke-width="1.15" fill="none"/>
<text x="693.8" y="389.0" class="ser" font-size="18" fill="#1c2a3c" stroke="#1c2a3c" stroke-width="0.35" text-anchor="middle">*</text>
<text x="692.8" y="567.5" class="ser" font-size="11.5" font-weight="bold" fill="#000" text-anchor="middle">10</text>
<rect x="728.4" y="445.2" width="19.8" height="108.2" fill="#000"/>
<rect x="748.2" y="432.1" width="20.2" height="121.3" fill="#fe7f2b"/>
<path d="M738.3 445.2V412.3M733.3 412.3H743.3M758.3 432.1V402.1M753.3 402.1H763.3" stroke="#2a2a2a" stroke-width="1.15" fill="none"/>
<path d="M738.3 408.8V380.5H758.3V399.6" stroke="#2a2a2a" stroke-width="1.15" fill="none"/>
<text x="748.6" y="382.6" class="ser" font-size="18" fill="#1c2a3c" stroke="#1c2a3c" stroke-width="0.35" text-anchor="middle">*</text>
<text x="747.6" y="567.5" class="ser" font-size="11.5" font-weight="bold" fill="#000" text-anchor="middle">14</text>
<rect x="446.5" y="305.5" width="334" height="247.9" fill="none" stroke="#000" stroke-width="2.2"/>
<line x1="446.5" y1="542.9" x2="450.6" y2="542.9" stroke="#000" stroke-width="1.8"/>
<line x1="446.5" y1="528.1" x2="452.8" y2="528.1" stroke="#000" stroke-width="1.8"/>
<text x="438.2" y="532.5" class="ser" font-size="13" font-weight="bold" fill="#000" text-anchor="middle" textLength="5.4" lengthAdjust="spacingAndGlyphs">5</text>
<line x1="446.5" y1="513.4" x2="450.6" y2="513.4" stroke="#000" stroke-width="1.8"/>
<line x1="446.5" y1="498.6" x2="452.8" y2="498.6" stroke="#000" stroke-width="1.8"/>
<text x="438.2" y="503.0" class="ser" font-size="13" font-weight="bold" fill="#000" text-anchor="middle" textLength="10.2" lengthAdjust="spacingAndGlyphs">10</text>
<line x1="446.5" y1="483.9" x2="450.6" y2="483.9" stroke="#000" stroke-width="1.8"/>
<line x1="446.5" y1="469.1" x2="452.8" y2="469.1" stroke="#000" stroke-width="1.8"/>
<text x="438.2" y="473.5" class="ser" font-size="13" font-weight="bold" fill="#000" text-anchor="middle" textLength="10.2" lengthAdjust="spacingAndGlyphs">15</text>
<line x1="446.5" y1="454.4" x2="450.6" y2="454.4" stroke="#000" stroke-width="1.8"/>
<line x1="446.5" y1="439.6" x2="452.8" y2="439.6" stroke="#000" stroke-width="1.8"/>
<text x="438.2" y="444.0" class="ser" font-size="13" font-weight="bold" fill="#000" text-anchor="middle" textLength="10.2" lengthAdjust="spacingAndGlyphs">20</text>
<line x1="446.5" y1="424.9" x2="450.6" y2="424.9" stroke="#000" stroke-width="1.8"/>
<line x1="446.5" y1="410.1" x2="452.8" y2="410.1" stroke="#000" stroke-width="1.8"/>
<text x="438.2" y="414.5" class="ser" font-size="13" font-weight="bold" fill="#000" text-anchor="middle" textLength="10.2" lengthAdjust="spacingAndGlyphs">25</text>
<line x1="446.5" y1="395.4" x2="450.6" y2="395.4" stroke="#000" stroke-width="1.8"/>
<line x1="446.5" y1="380.6" x2="452.8" y2="380.6" stroke="#000" stroke-width="1.8"/>
<text x="438.2" y="385.0" class="ser" font-size="13" font-weight="bold" fill="#000" text-anchor="middle" textLength="10.2" lengthAdjust="spacingAndGlyphs">30</text>
<line x1="446.5" y1="365.9" x2="450.6" y2="365.9" stroke="#000" stroke-width="1.8"/>
<line x1="446.5" y1="351.1" x2="452.8" y2="351.1" stroke="#000" stroke-width="1.8"/>
<text x="438.2" y="355.5" class="ser" font-size="13" font-weight="bold" fill="#000" text-anchor="middle" textLength="10.2" lengthAdjust="spacingAndGlyphs">35</text>
<line x1="446.5" y1="336.4" x2="450.6" y2="336.4" stroke="#000" stroke-width="1.8"/>
<line x1="446.5" y1="321.6" x2="452.8" y2="321.6" stroke="#000" stroke-width="1.8"/>
<text x="438.2" y="326.0" class="ser" font-size="13" font-weight="bold" fill="#000" text-anchor="middle" textLength="10.2" lengthAdjust="spacingAndGlyphs">40</text>
<text x="438.2" y="558.9" class="ser" font-size="13" font-weight="bold" fill="#000" text-anchor="middle" textLength="5.4" lengthAdjust="spacingAndGlyphs">0</text>
<text x="618" y="585.3" class="ser" font-size="15.2" font-weight="bold" fill="#000" text-anchor="middle" textLength="117" lengthAdjust="spacingAndGlyphs">Culture time (day)</text>
<text transform="translate(420,427) rotate(-90)" class="ser" font-size="16.3" font-weight="bold" fill="#000" text-anchor="middle" textLength="202" lengthAdjust="spacingAndGlyphs">ALP activity (ng/mg protein)</text>
<rect x="458.8" y="325" width="17" height="8.3" fill="#000"/>
<rect x="458.8" y="337.1" width="17" height="8.3" fill="#fe7f2b"/>
<text x="481" y="332.6" class="ser" font-size="10.8" font-weight="bold" fill="#000" textLength="141" lengthAdjust="spacingAndGlyphs">BC electropsun nanofiber scaffold</text>
<text x="480.3" y="345.5" class="ser" font-size="10.8" font-weight="bold" fill="#000" textLength="230" lengthAdjust="spacingAndGlyphs">Soy protein modified BC electrospun nanofiber scaffold</text>
</svg></body></html>
